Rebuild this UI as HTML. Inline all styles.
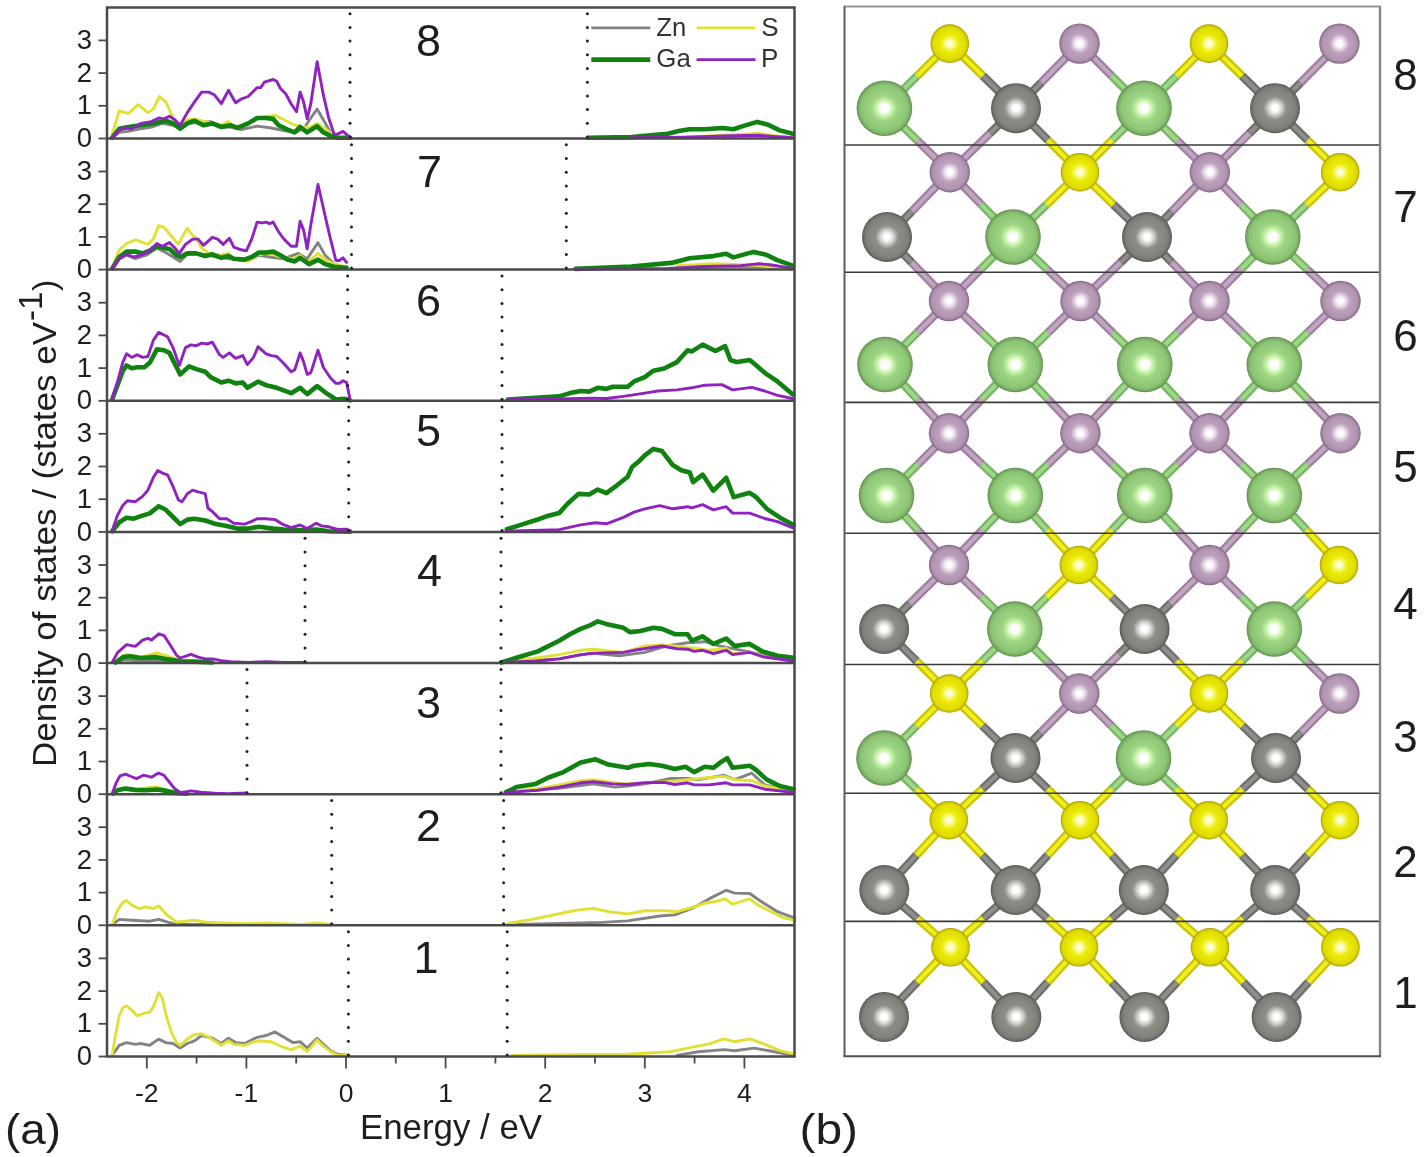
<!DOCTYPE html>
<html><head><meta charset="utf-8"><style>
html,body{margin:0;padding:0;background:#fff;}
body{width:1425px;height:1157px;position:relative;overflow:hidden;font-family:"Liberation Sans", sans-serif;}
</style></head><body>
<svg width="1425" height="1157" viewBox="0 0 1425 1157" style="position:absolute;left:0;top:0;filter:blur(0.45px)">
<defs>
<radialGradient id="gGa" cx="50%" cy="50%" r="50%" fx="50%" fy="50%"><stop offset="0" stop-color="#ffffff"/><stop offset="0.14" stop-color="#ffffff"/><stop offset="0.3" stop-color="#c6f2a6"/><stop offset="0.46" stop-color="#9dd585"/><stop offset="0.84" stop-color="#8bc473"/><stop offset="0.94" stop-color="#77aa62"/><stop offset="1" stop-color="#5a8a48"/></radialGradient>
<radialGradient id="gZn" cx="50%" cy="50%" r="50%" fx="50%" fy="50%"><stop offset="0" stop-color="#ffffff"/><stop offset="0.12" stop-color="#ffffff"/><stop offset="0.28" stop-color="#cfcfca"/><stop offset="0.46" stop-color="#8e8e88"/><stop offset="0.84" stop-color="#80807a"/><stop offset="0.94" stop-color="#6c6c66"/><stop offset="1" stop-color="#52524c"/></radialGradient>
<radialGradient id="gS" cx="50%" cy="50%" r="50%" fx="50%" fy="50%"><stop offset="0" stop-color="#fffff0"/><stop offset="0.08" stop-color="#fffff0"/><stop offset="0.26" stop-color="#f8f870"/><stop offset="0.46" stop-color="#ebeb08"/><stop offset="0.84" stop-color="#dfdc00"/><stop offset="0.94" stop-color="#c8c000"/><stop offset="1" stop-color="#a09600"/></radialGradient>
<radialGradient id="gP" cx="50%" cy="50%" r="50%" fx="50%" fy="50%"><stop offset="0" stop-color="#ffffff"/><stop offset="0.13" stop-color="#ffffff"/><stop offset="0.3" stop-color="#e4d4e4"/><stop offset="0.48" stop-color="#bca2bc"/><stop offset="0.84" stop-color="#b093b0"/><stop offset="0.94" stop-color="#9a7c9a"/><stop offset="1" stop-color="#7c607c"/></radialGradient>
</defs>
<rect width="1425" height="1157" fill="#fff"/>
<g fill="none" stroke-linejoin="round" stroke-linecap="round">
<polyline points="112.2,137.7 119.3,132.3 128.3,131.4 140.8,128.7 151.5,127.0 162.3,123.4 173.0,125.2 180.2,128.7 187.3,123.4 198.1,122.5 210.6,121.6 221.3,127.0 230.3,127.0 241.0,129.6 257.1,126.1 269.6,127.8 284.0,130.5 294.7,132.3 303.6,128.7 310.8,118.0 317.1,109.1 323.3,119.8 330.5,132.3 337.6,137.7 350.2,137.7" stroke="#838383" stroke-width="2.9"/>
<polyline points="112.2,134.1 119.3,110.8 128.3,113.5 138.1,104.6 147.9,112.6 153.3,109.1 159.6,96.5 165.8,101.9 171.2,113.5 174.8,121.6 180.2,127.0 187.3,119.8 194.5,118.9 205.2,121.6 212.4,123.4 221.3,125.2 228.5,121.6 233.8,127.0 244.6,125.2 257.1,118.0 275.0,115.3 284.0,119.8 292.9,124.3 301.9,127.0 310.8,127.0 317.1,123.4 325.1,128.7 332.3,134.1 337.6,137.7 350.2,137.7" stroke="#e1e135" stroke-width="2.9"/>
<polyline points="112.2,137.7 119.3,128.7 128.3,127.0 140.8,125.2 153.3,123.4 165.8,120.7 173.0,123.4 180.2,128.7 187.3,123.4 194.5,120.7 203.4,125.2 212.4,123.4 221.3,127.0 230.3,125.2 237.4,127.8 248.2,123.4 257.1,118.0 266.1,118.0 273.2,118.9 278.6,125.2 287.5,129.6 294.7,132.3 300.1,127.0 307.2,132.3 317.1,126.1 323.3,132.3 330.5,135.9 337.6,137.7 350.2,137.7" stroke="#0f820f" stroke-width="4.6"/>
<polyline points="112.2,137.7 117.5,131.4 124.7,127.8 131.8,128.7 140.8,123.4 151.5,121.6 158.7,118.0 164.1,118.9 169.4,116.2 174.8,119.8 180.2,125.2 187.3,112.6 194.5,101.9 201.6,92.1 208.8,92.1 214.2,94.7 221.3,103.7 228.5,90.3 235.6,102.8 241.0,99.2 248.2,96.5 257.1,87.6 260.7,87.6 264.3,82.2 273.2,79.5 276.8,81.3 280.4,88.5 285.7,93.8 291.1,103.7 296.5,111.7 300.1,92.1 303.6,101.9 307.2,118.9 310.8,103.7 317.1,61.6 323.3,94.7 328.7,118.0 334.1,134.1 337.6,134.1 343.0,131.4 350.2,137.7" stroke="#9022c0" stroke-width="2.9"/>
<polyline points="722.5,136.5 759.0,135.6 792.7,137.8" stroke="#838383" stroke-width="2.9"/>
<polyline points="686.0,137.1 722.5,135.3 759.0,133.4 773.6,135.6 792.7,137.8" stroke="#e1e135" stroke-width="2.9"/>
<polyline points="588.4,137.8 631.2,137.1 667.7,133.8 678.7,131.1 689.6,129.2 704.2,129.2 722.5,128.0 733.4,129.2 744.4,125.6 757.2,121.9 768.1,124.7 779.1,130.1 792.7,133.8" stroke="#0f820f" stroke-width="4.6"/>
<polyline points="631.2,137.8 686.0,137.1 722.5,136.0 759.0,135.3 773.6,136.5 792.7,137.8" stroke="#9022c0" stroke-width="2.9"/>
<polyline points="112.2,268.6 119.3,258.7 126.5,255.2 135.4,258.7 146.2,255.2 156.9,248.0 164.1,251.6 173.0,257.0 180.2,261.4 187.3,254.3 198.1,253.4 212.4,256.1 230.3,258.7 248.2,260.5 258.9,255.2 269.6,257.0 284.0,258.7 298.3,253.4 307.2,258.7 318.0,242.6 325.1,255.2 334.1,264.1 346.6,267.7" stroke="#838383" stroke-width="2.9"/>
<polyline points="112.2,267.7 119.3,249.8 126.5,243.5 135.4,239.9 140.8,241.7 147.9,244.4 153.3,239.1 158.7,225.6 164.1,227.4 169.4,233.7 178.4,244.4 182.0,237.3 187.3,228.3 192.7,235.5 196.3,238.2 201.6,248.0 208.8,253.4 219.5,255.2 228.5,253.4 233.8,258.7 241.0,260.5 248.2,261.4 257.1,255.2 266.1,253.4 275.0,255.2 284.0,257.8 292.9,258.7 300.1,255.2 307.2,262.3 318.0,253.4 325.1,259.6 334.1,264.1 346.6,266.8" stroke="#e1e135" stroke-width="2.9"/>
<polyline points="112.2,268.6 119.3,257.0 126.5,251.6 135.4,251.6 142.6,253.4 149.7,250.7 156.9,246.2 164.1,248.0 169.4,248.9 176.6,255.2 180.2,257.0 187.3,253.4 196.3,253.4 205.2,256.1 212.4,254.3 221.3,257.8 228.5,256.1 233.8,258.7 244.6,259.6 251.7,257.0 258.9,252.5 266.1,252.5 273.2,251.6 280.4,255.2 287.5,259.6 294.7,261.4 300.1,257.8 309.0,264.1 318.0,259.6 325.1,264.1 334.1,266.8 346.6,267.7" stroke="#0f820f" stroke-width="4.6"/>
<polyline points="112.2,268.6 119.3,258.7 126.5,254.3 133.6,257.0 140.8,255.2 147.9,251.6 156.9,243.5 162.3,246.2 169.4,242.6 174.8,248.0 179.3,253.4 185.5,244.4 192.7,239.1 198.1,239.1 203.4,245.3 212.4,237.3 217.7,239.1 223.1,244.4 229.4,238.2 233.8,247.1 241.0,249.8 246.4,250.7 251.7,239.1 257.1,222.1 262.5,222.9 266.1,222.1 269.6,223.8 273.2,222.1 278.6,231.9 284.0,239.1 291.1,246.2 296.5,246.2 300.1,221.2 303.6,230.1 307.2,248.9 310.8,224.7 318.0,184.5 325.1,215.8 330.5,239.1 335.9,260.5 339.4,260.5 343.0,257.8 346.6,262.3" stroke="#9022c0" stroke-width="2.9"/>
<polyline points="686.0,267.8 759.0,266.5 792.7,268.9" stroke="#838383" stroke-width="2.9"/>
<polyline points="676.9,265.6 713.4,263.8 740.7,264.7 759.0,265.6 792.7,268.4" stroke="#e1e135" stroke-width="2.9"/>
<polyline points="575.6,268.9 631.2,266.5 671.4,262.9 689.6,258.3 713.4,256.1 726.1,253.8 733.4,257.4 753.5,251.9 766.3,254.7 777.2,260.1 792.7,265.6" stroke="#0f820f" stroke-width="4.6"/>
<polyline points="575.6,269.3 667.7,268.4 704.2,266.5 740.7,265.6 759.0,263.8 769.9,264.7 792.7,268.4" stroke="#9022c0" stroke-width="2.9"/>
<polyline points="112.2,399.5 117.5,385.2 122.9,370.8 126.5,365.5 131.8,368.2 137.2,367.3 144.4,367.3 149.7,362.8 156.9,349.4 164.1,350.3 169.4,352.9 174.8,363.7 180.2,374.4 189.1,366.4 196.3,369.1 205.2,371.7 210.6,377.1 221.3,382.5 228.5,380.7 235.6,383.4 242.8,382.5 247.3,387.8 253.5,384.3 258.0,381.6 266.1,385.2 276.8,387.8 291.1,393.2 300.1,387.8 307.2,394.1 317.1,386.1 325.1,392.3 335.9,399.5 344.8,398.9 350.2,400.4" stroke="#0f820f" stroke-width="4.6"/>
<polyline points="112.2,398.6 117.5,381.6 122.9,361.9 126.5,353.8 131.8,357.4 137.2,354.7 142.6,357.4 147.9,356.5 153.3,340.4 158.7,332.4 167.6,336.8 173.0,347.6 179.3,365.5 185.5,347.6 190.9,344.9 196.3,345.8 201.6,343.1 207.0,344.0 212.4,342.2 219.5,354.7 223.1,357.4 229.4,352.9 235.6,358.3 242.8,355.6 247.3,364.6 253.5,357.4 258.0,346.7 266.1,353.8 271.4,355.6 276.8,356.5 284.0,363.7 291.1,371.7 294.7,369.9 300.1,352.9 303.6,361.9 307.2,374.4 310.8,372.6 318.0,350.3 323.3,367.3 330.5,378.0 335.9,383.4 339.4,383.4 343.0,380.7 346.6,382.5 350.2,400.4" stroke="#9022c0" stroke-width="2.9"/>
<polyline points="507.8,399.6 559.2,396.4 569.9,393.1 580.6,391.0 589.2,391.6 597.7,387.8 606.3,388.9 612.7,386.7 627.7,386.7 634.1,381.4 644.8,377.1 653.4,370.7 664.1,368.5 676.9,362.1 687.6,350.3 691.9,351.4 702.6,344.6 715.5,351.0 725.1,346.1 730.4,360.0 736.9,362.1 749.7,360.0 756.1,365.3 764.7,372.8 777.5,381.4 792.5,394.2" stroke="#0f820f" stroke-width="4.6"/>
<polyline points="507.8,399.6 559.2,398.9 591.3,398.1 606.3,398.5 623.4,396.4 644.8,393.1 657.7,391.0 676.9,389.9 691.9,387.8 704.8,385.2 721.9,384.6 732.6,389.9 751.8,387.4 764.7,391.0 777.5,395.3 792.5,398.5" stroke="#9022c0" stroke-width="2.9"/>
<polyline points="112.2,531.3 119.3,522.3 126.5,517.8 133.6,518.7 140.8,516.1 149.7,513.4 158.7,506.2 165.8,509.8 173.0,517.0 180.2,524.1 187.3,519.6 194.5,518.7 205.2,520.5 216.0,524.1 226.7,525.9 237.4,528.6 248.2,528.6 258.9,526.8 273.2,528.6 284.0,529.5 301.9,530.4 316.2,529.5 328.7,531.3 350.2,531.6" stroke="#0f820f" stroke-width="4.6"/>
<polyline points="112.2,530.4 117.5,515.2 122.9,505.3 127.4,500.8 135.4,501.7 142.6,496.4 147.9,490.1 153.3,477.6 157.8,470.4 162.3,473.1 167.6,474.9 173.0,486.5 178.4,499.9 182.0,501.7 187.3,493.7 192.7,490.1 198.1,491.9 205.2,493.7 207.9,508.0 212.4,511.6 219.5,518.7 226.7,518.7 233.8,523.2 244.6,524.1 251.7,521.4 257.1,518.7 266.1,518.7 275.0,519.6 282.2,524.1 291.1,527.7 300.1,525.0 307.2,528.6 316.2,523.2 321.5,525.9 328.7,526.8 337.6,529.5 346.6,529.1 350.2,531.3" stroke="#9022c0" stroke-width="2.9"/>
<polyline points="506.8,529.2 520.7,524.9 537.8,519.5 546.4,516.3 559.2,513.1 567.8,503.5 578.5,493.9 589.2,494.5 597.7,489.6 606.3,493.2 617.0,485.3 627.7,476.7 632.0,467.1 638.4,461.8 644.8,455.3 653.4,448.9 662.0,451.1 672.7,465.0 681.2,470.3 689.8,472.5 693.0,482.1 702.6,474.6 713.3,490.7 726.2,477.8 733.7,497.1 749.7,492.8 756.1,497.1 766.8,508.8 779.7,517.4 793.6,524.9" stroke="#0f820f" stroke-width="4.6"/>
<polyline points="506.8,531.3 559.2,529.6 580.6,524.9 595.6,522.8 606.3,523.8 623.4,517.4 634.1,512.1 644.8,508.8 659.8,505.6 672.7,508.8 687.6,506.7 691.9,507.8 702.6,504.6 713.3,509.9 726.2,506.7 732.6,513.1 749.7,513.1 764.7,518.5 777.5,521.7 793.6,528.1" stroke="#9022c0" stroke-width="2.9"/>
<polyline points="115.7,662.5 122.9,659.8 140.8,660.7 158.7,660.2 176.6,661.6 212.4,662.5" stroke="#838383" stroke-width="2.9"/>
<polyline points="115.7,661.6 126.5,654.4 140.8,657.1 156.9,653.0 167.6,656.2 180.2,660.7 194.5,661.6 212.4,662.5" stroke="#e1e135" stroke-width="2.9"/>
<polyline points="115.7,662.5 122.9,657.1 130.1,656.2 140.8,658.0 155.1,657.1 165.8,658.9 180.2,661.2 194.5,661.6 212.4,662.5" stroke="#0f820f" stroke-width="4.6"/>
<polyline points="112.2,662.5 117.5,652.6 126.5,644.6 135.4,646.4 142.6,640.1 147.9,638.3 151.5,640.1 158.7,633.8 164.1,635.6 169.4,643.7 176.6,655.3 180.2,658.0 190.9,654.4 198.1,657.1 205.2,658.9 212.4,658.9 221.3,660.7 230.3,661.6 248.2,662.5 266.1,661.6 284.0,662.5 304.5,662.5" stroke="#9022c0" stroke-width="2.9"/>
<polyline points="501.4,662.5 559.2,658.9 591.3,653.1 619.1,655.7 644.8,652.4 666.2,646.0 687.6,642.8 704.8,641.7 719.7,646.0 730.4,648.2 751.8,652.4 793.6,661.0" stroke="#838383" stroke-width="2.9"/>
<polyline points="501.4,662.5 537.8,657.8 559.2,654.6 580.6,650.3 593.5,649.2 623.4,652.4 644.8,646.0 662.0,644.9 687.6,647.1 709.0,650.3 726.2,648.2 732.6,653.5 751.8,652.4 764.7,656.7 793.6,661.0" stroke="#e1e135" stroke-width="2.9"/>
<polyline points="501.4,662.5 516.4,657.8 537.8,651.4 559.2,640.7 569.9,634.2 580.6,628.9 589.2,625.7 597.7,621.4 608.4,624.6 623.4,627.8 629.8,632.1 640.5,631.0 653.4,627.8 662.0,628.9 674.8,634.2 687.6,634.2 691.9,640.7 702.6,636.4 713.3,643.9 726.2,638.5 734.7,646.0 749.7,643.9 762.6,651.4 777.5,655.7 793.6,657.8" stroke="#0f820f" stroke-width="4.6"/>
<polyline points="501.4,662.5 537.8,661.0 559.2,658.9 580.6,654.6 595.6,653.1 623.4,652.4 634.1,650.3 662.0,646.0 676.9,648.8 687.6,649.2 694.1,651.4 702.6,650.3 713.3,653.5 726.2,650.3 732.6,654.6 749.7,652.4 762.6,656.7 793.6,661.0" stroke="#9022c0" stroke-width="2.9"/>
<polyline points="139.2,788.8 157.0,786.8 166.6,790.2 176.2,793.2" stroke="#e1e135" stroke-width="2.9"/>
<polyline points="113.2,793.6 117.3,790.2 125.5,788.6 135.1,789.9 146.1,790.2 157.0,789.5 166.6,790.9 176.2,792.9 187.1,793.6" stroke="#0f820f" stroke-width="4.6"/>
<polyline points="112.5,792.9 115.9,783.4 120.1,775.8 125.5,774.1 131.0,776.5 136.5,778.6 143.3,775.2 151.5,777.2 158.4,773.1 163.8,775.2 169.3,782.0 174.8,788.8 180.3,792.7 191.2,790.9 200.8,792.3 214.5,793.2 228.2,793.6 246.6,792.9" stroke="#9022c0" stroke-width="2.9"/>
<polyline points="505.7,792.4 559.2,788.2 593.5,783.9 614.9,787.1 627.7,786.0 644.8,783.9 670.5,778.5 687.6,778.5 698.3,779.6 724.0,775.3 734.7,779.6 751.8,773.2 764.7,784.9 793.6,791.4" stroke="#838383" stroke-width="2.9"/>
<polyline points="505.7,792.4 537.8,788.8 559.2,784.9 580.6,780.7 593.5,779.6 623.4,783.9 666.2,781.7 687.6,779.6 709.0,777.5 724.0,776.4 734.7,779.6 751.8,780.7 764.7,786.0 793.6,791.4" stroke="#e1e135" stroke-width="2.9"/>
<polyline points="505.7,792.4 516.4,787.1 535.7,783.9 548.5,777.5 563.5,772.1 580.6,762.5 595.6,759.3 608.4,764.6 627.7,767.8 634.1,765.7 649.1,764.0 662.0,765.7 674.8,768.9 685.5,766.8 694.1,772.1 704.8,766.8 713.3,767.8 721.9,761.4 727.2,758.2 732.6,767.8 749.7,765.7 756.1,770.0 766.8,779.6 779.7,786.0 793.6,789.2" stroke="#0f820f" stroke-width="4.6"/>
<polyline points="505.7,792.4 537.8,790.3 559.2,787.1 580.6,782.8 593.5,781.7 612.7,783.9 627.7,784.5 644.8,782.8 664.1,782.4 674.8,784.5 687.6,782.8 694.1,784.9 709.0,784.9 726.2,782.8 732.6,784.9 749.7,784.9 764.7,789.2 793.6,792.4" stroke="#9022c0" stroke-width="2.9"/>
<polyline points="112.2,924.7 119.3,919.4 131.8,920.3 149.7,921.2 158.7,919.4 167.6,922.1 176.6,924.4 331.4,924.7" stroke="#838383" stroke-width="2.9"/>
<polyline points="112.2,924.7 117.5,910.4 122.9,902.4 126.5,900.6 131.8,905.1 139.0,908.6 146.2,906.8 153.3,908.6 158.7,905.9 165.8,914.0 176.6,922.1 185.5,921.2 194.5,920.3 205.2,922.1 221.3,922.9 248.2,923.8 266.1,922.9 301.9,924.4 316.2,922.9 331.4,924.4" stroke="#e1e135" stroke-width="2.9"/>
<polyline points="507.8,924.6 559.2,923.5 602.0,922.4 627.7,920.9 659.8,916.0 674.8,914.9 691.9,908.5 709.0,898.9 726.2,890.3 734.7,893.1 749.7,893.5 760.4,901.0 777.5,911.7 786.1,914.9 794.7,918.2" stroke="#838383" stroke-width="2.9"/>
<polyline points="507.8,923.5 527.1,920.3 548.5,916.0 563.5,912.8 580.6,909.6 593.5,908.5 608.4,911.7 627.7,913.9 644.8,910.7 666.2,910.7 676.9,911.7 691.9,907.5 704.8,903.2 717.6,901.0 725.1,898.9 732.6,904.2 749.7,898.9 758.3,905.3 773.3,912.8 781.8,917.1 794.7,920.3" stroke="#e1e135" stroke-width="2.9"/>
<polyline points="112.2,1055.2 119.3,1045.3 126.5,1042.6 135.4,1044.4 140.8,1043.5 149.7,1045.3 158.7,1039.1 165.8,1042.6 173.0,1043.5 180.2,1048.0 187.3,1043.5 194.5,1040.8 201.6,1035.5 212.4,1038.2 221.3,1043.5 228.5,1038.2 235.6,1042.6 244.6,1043.5 257.1,1037.3 266.1,1035.5 275.0,1031.9 284.0,1037.3 292.9,1042.6 300.1,1041.7 307.2,1048.0 317.1,1038.2 323.3,1044.4 330.5,1050.7 337.6,1054.3 348.4,1055.2" stroke="#838383" stroke-width="2.9"/>
<polyline points="112.2,1055.2 115.7,1033.7 119.3,1015.8 122.9,1007.7 126.5,1005.9 131.8,1010.4 137.2,1015.8 144.4,1013.1 149.7,1012.2 154.2,1005.1 158.7,992.5 162.3,997.9 165.8,1014.0 171.2,1031.9 176.6,1042.6 180.2,1045.3 187.3,1039.1 194.5,1034.6 201.6,1033.7 208.8,1037.3 216.0,1041.7 221.3,1045.3 228.5,1040.8 233.8,1044.4 244.6,1045.3 251.7,1042.6 258.9,1040.8 271.4,1041.7 280.4,1046.2 291.1,1049.8 300.1,1046.2 307.2,1051.6 317.1,1039.9 323.3,1046.2 330.5,1051.6 337.6,1055.2 348.4,1055.2" stroke="#e1e135" stroke-width="2.9"/>
<polyline points="676.9,1055.4 698.3,1051.7 724.0,1049.6 734.7,1050.7 754.0,1048.1 769.0,1050.7 793.6,1055.4" stroke="#838383" stroke-width="2.9"/>
<polyline points="512.1,1055.4 580.6,1054.5 623.4,1054.5 670.5,1051.7 687.6,1048.1 709.0,1043.8 724.0,1038.9 734.7,1041.7 749.7,1038.9 764.7,1044.2 779.7,1050.7 793.6,1053.9" stroke="#e1e135" stroke-width="2.9"/>
</g>
<g stroke="#4a4a4a" stroke-width="2.5" fill="none">
<rect x="107" y="7.5" width="687.5" height="1049.0"/>
<line x1="107" y1="925.3" x2="794.5" y2="925.3"/>
<line x1="107" y1="794.2" x2="794.5" y2="794.2"/>
<line x1="107" y1="663.1" x2="794.5" y2="663.1"/>
<line x1="107" y1="531.9" x2="794.5" y2="531.9"/>
<line x1="107" y1="400.8" x2="794.5" y2="400.8"/>
<line x1="107" y1="269.6" x2="794.5" y2="269.6"/>
<line x1="107" y1="138.5" x2="794.5" y2="138.5"/>
<line x1="98.5" y1="138.5" x2="107" y2="138.5" stroke-width="1.8"/>
<line x1="98.5" y1="105.8" x2="107" y2="105.8" stroke-width="1.8"/>
<line x1="98.5" y1="73.1" x2="107" y2="73.1" stroke-width="1.8"/>
<line x1="98.5" y1="40.4" x2="107" y2="40.4" stroke-width="1.8"/>
<line x1="98.5" y1="269.6" x2="107" y2="269.6" stroke-width="1.8"/>
<line x1="98.5" y1="236.9" x2="107" y2="236.9" stroke-width="1.8"/>
<line x1="98.5" y1="204.2" x2="107" y2="204.2" stroke-width="1.8"/>
<line x1="98.5" y1="171.5" x2="107" y2="171.5" stroke-width="1.8"/>
<line x1="98.5" y1="400.8" x2="107" y2="400.8" stroke-width="1.8"/>
<line x1="98.5" y1="368.1" x2="107" y2="368.1" stroke-width="1.8"/>
<line x1="98.5" y1="335.4" x2="107" y2="335.4" stroke-width="1.8"/>
<line x1="98.5" y1="302.7" x2="107" y2="302.7" stroke-width="1.8"/>
<line x1="98.5" y1="531.9" x2="107" y2="531.9" stroke-width="1.8"/>
<line x1="98.5" y1="499.2" x2="107" y2="499.2" stroke-width="1.8"/>
<line x1="98.5" y1="466.5" x2="107" y2="466.5" stroke-width="1.8"/>
<line x1="98.5" y1="433.8" x2="107" y2="433.8" stroke-width="1.8"/>
<line x1="98.5" y1="663.1" x2="107" y2="663.1" stroke-width="1.8"/>
<line x1="98.5" y1="630.4" x2="107" y2="630.4" stroke-width="1.8"/>
<line x1="98.5" y1="597.7" x2="107" y2="597.7" stroke-width="1.8"/>
<line x1="98.5" y1="565.0" x2="107" y2="565.0" stroke-width="1.8"/>
<line x1="98.5" y1="794.2" x2="107" y2="794.2" stroke-width="1.8"/>
<line x1="98.5" y1="761.5" x2="107" y2="761.5" stroke-width="1.8"/>
<line x1="98.5" y1="728.8" x2="107" y2="728.8" stroke-width="1.8"/>
<line x1="98.5" y1="696.1" x2="107" y2="696.1" stroke-width="1.8"/>
<line x1="98.5" y1="925.3" x2="107" y2="925.3" stroke-width="1.8"/>
<line x1="98.5" y1="892.6" x2="107" y2="892.6" stroke-width="1.8"/>
<line x1="98.5" y1="859.9" x2="107" y2="859.9" stroke-width="1.8"/>
<line x1="98.5" y1="827.2" x2="107" y2="827.2" stroke-width="1.8"/>
<line x1="98.5" y1="1056.5" x2="107" y2="1056.5" stroke-width="1.8"/>
<line x1="98.5" y1="1023.8" x2="107" y2="1023.8" stroke-width="1.8"/>
<line x1="98.5" y1="991.1" x2="107" y2="991.1" stroke-width="1.8"/>
<line x1="98.5" y1="958.4" x2="107" y2="958.4" stroke-width="1.8"/>
<line x1="146.8" y1="1056.5" x2="146.8" y2="1068.5" stroke-width="1.8"/>
<line x1="196.6" y1="1056.5" x2="196.6" y2="1063.5" stroke-width="1.8"/>
<line x1="246.4" y1="1056.5" x2="246.4" y2="1068.5" stroke-width="1.8"/>
<line x1="296.2" y1="1056.5" x2="296.2" y2="1063.5" stroke-width="1.8"/>
<line x1="346.0" y1="1056.5" x2="346.0" y2="1068.5" stroke-width="1.8"/>
<line x1="395.8" y1="1056.5" x2="395.8" y2="1063.5" stroke-width="1.8"/>
<line x1="445.6" y1="1056.5" x2="445.6" y2="1068.5" stroke-width="1.8"/>
<line x1="495.4" y1="1056.5" x2="495.4" y2="1063.5" stroke-width="1.8"/>
<line x1="545.2" y1="1056.5" x2="545.2" y2="1068.5" stroke-width="1.8"/>
<line x1="595.0" y1="1056.5" x2="595.0" y2="1063.5" stroke-width="1.8"/>
<line x1="644.8" y1="1056.5" x2="644.8" y2="1068.5" stroke-width="1.8"/>
<line x1="694.6" y1="1056.5" x2="694.6" y2="1063.5" stroke-width="1.8"/>
<line x1="744.4" y1="1056.5" x2="744.4" y2="1068.5" stroke-width="1.8"/>
</g>
<g fill="#222">
<circle cx="350" cy="137.0" r="1.5"/>
<circle cx="350" cy="123.3" r="1.5"/>
<circle cx="350" cy="109.6" r="1.5"/>
<circle cx="350" cy="95.9" r="1.5"/>
<circle cx="350" cy="82.2" r="1.5"/>
<circle cx="350" cy="68.5" r="1.5"/>
<circle cx="350" cy="54.8" r="1.5"/>
<circle cx="350" cy="41.1" r="1.5"/>
<circle cx="350" cy="27.4" r="1.5"/>
<circle cx="350" cy="13.7" r="1.5"/>
<circle cx="587.4" cy="137.0" r="1.5"/>
<circle cx="587.4" cy="123.3" r="1.5"/>
<circle cx="587.4" cy="109.6" r="1.5"/>
<circle cx="587.4" cy="95.9" r="1.5"/>
<circle cx="587.4" cy="82.2" r="1.5"/>
<circle cx="587.4" cy="68.5" r="1.5"/>
<circle cx="587.4" cy="54.8" r="1.5"/>
<circle cx="587.4" cy="41.1" r="1.5"/>
<circle cx="587.4" cy="27.4" r="1.5"/>
<circle cx="587.4" cy="13.7" r="1.5"/>
<circle cx="351.5" cy="268.1" r="1.5"/>
<circle cx="351.5" cy="254.4" r="1.5"/>
<circle cx="351.5" cy="240.7" r="1.5"/>
<circle cx="351.5" cy="227.0" r="1.5"/>
<circle cx="351.5" cy="213.3" r="1.5"/>
<circle cx="351.5" cy="199.6" r="1.5"/>
<circle cx="351.5" cy="185.9" r="1.5"/>
<circle cx="351.5" cy="172.2" r="1.5"/>
<circle cx="351.5" cy="158.5" r="1.5"/>
<circle cx="351.5" cy="144.8" r="1.5"/>
<circle cx="566.3" cy="268.1" r="1.5"/>
<circle cx="566.3" cy="254.4" r="1.5"/>
<circle cx="566.3" cy="240.7" r="1.5"/>
<circle cx="566.3" cy="227.0" r="1.5"/>
<circle cx="566.3" cy="213.3" r="1.5"/>
<circle cx="566.3" cy="199.6" r="1.5"/>
<circle cx="566.3" cy="185.9" r="1.5"/>
<circle cx="566.3" cy="172.2" r="1.5"/>
<circle cx="566.3" cy="158.5" r="1.5"/>
<circle cx="566.3" cy="144.8" r="1.5"/>
<circle cx="347.6" cy="399.3" r="1.5"/>
<circle cx="347.6" cy="385.6" r="1.5"/>
<circle cx="347.6" cy="371.9" r="1.5"/>
<circle cx="347.6" cy="358.2" r="1.5"/>
<circle cx="347.6" cy="344.5" r="1.5"/>
<circle cx="347.6" cy="330.8" r="1.5"/>
<circle cx="347.6" cy="317.1" r="1.5"/>
<circle cx="347.6" cy="303.4" r="1.5"/>
<circle cx="347.6" cy="289.7" r="1.5"/>
<circle cx="347.6" cy="276.0" r="1.5"/>
<circle cx="502" cy="399.3" r="1.5"/>
<circle cx="502" cy="385.6" r="1.5"/>
<circle cx="502" cy="371.9" r="1.5"/>
<circle cx="502" cy="358.2" r="1.5"/>
<circle cx="502" cy="344.5" r="1.5"/>
<circle cx="502" cy="330.8" r="1.5"/>
<circle cx="502" cy="317.1" r="1.5"/>
<circle cx="502" cy="303.4" r="1.5"/>
<circle cx="502" cy="289.7" r="1.5"/>
<circle cx="502" cy="276.0" r="1.5"/>
<circle cx="348.7" cy="530.4" r="1.5"/>
<circle cx="348.7" cy="516.7" r="1.5"/>
<circle cx="348.7" cy="503.0" r="1.5"/>
<circle cx="348.7" cy="489.3" r="1.5"/>
<circle cx="348.7" cy="475.6" r="1.5"/>
<circle cx="348.7" cy="461.9" r="1.5"/>
<circle cx="348.7" cy="448.2" r="1.5"/>
<circle cx="348.7" cy="434.5" r="1.5"/>
<circle cx="348.7" cy="420.8" r="1.5"/>
<circle cx="348.7" cy="407.1" r="1.5"/>
<circle cx="502" cy="530.4" r="1.5"/>
<circle cx="502" cy="516.7" r="1.5"/>
<circle cx="502" cy="503.0" r="1.5"/>
<circle cx="502" cy="489.3" r="1.5"/>
<circle cx="502" cy="475.6" r="1.5"/>
<circle cx="502" cy="461.9" r="1.5"/>
<circle cx="502" cy="448.2" r="1.5"/>
<circle cx="502" cy="434.5" r="1.5"/>
<circle cx="502" cy="420.8" r="1.5"/>
<circle cx="502" cy="407.1" r="1.5"/>
<circle cx="305" cy="661.6" r="1.5"/>
<circle cx="305" cy="647.9" r="1.5"/>
<circle cx="305" cy="634.2" r="1.5"/>
<circle cx="305" cy="620.5" r="1.5"/>
<circle cx="305" cy="606.8" r="1.5"/>
<circle cx="305" cy="593.1" r="1.5"/>
<circle cx="305" cy="579.4" r="1.5"/>
<circle cx="305" cy="565.7" r="1.5"/>
<circle cx="305" cy="552.0" r="1.5"/>
<circle cx="305" cy="538.3" r="1.5"/>
<circle cx="501" cy="661.6" r="1.5"/>
<circle cx="501" cy="647.9" r="1.5"/>
<circle cx="501" cy="634.2" r="1.5"/>
<circle cx="501" cy="620.5" r="1.5"/>
<circle cx="501" cy="606.8" r="1.5"/>
<circle cx="501" cy="593.1" r="1.5"/>
<circle cx="501" cy="579.4" r="1.5"/>
<circle cx="501" cy="565.7" r="1.5"/>
<circle cx="501" cy="552.0" r="1.5"/>
<circle cx="501" cy="538.3" r="1.5"/>
<circle cx="247" cy="792.7" r="1.5"/>
<circle cx="247" cy="779.0" r="1.5"/>
<circle cx="247" cy="765.3" r="1.5"/>
<circle cx="247" cy="751.6" r="1.5"/>
<circle cx="247" cy="737.9" r="1.5"/>
<circle cx="247" cy="724.2" r="1.5"/>
<circle cx="247" cy="710.5" r="1.5"/>
<circle cx="247" cy="696.8" r="1.5"/>
<circle cx="247" cy="683.1" r="1.5"/>
<circle cx="247" cy="669.4" r="1.5"/>
<circle cx="501" cy="792.7" r="1.5"/>
<circle cx="501" cy="779.0" r="1.5"/>
<circle cx="501" cy="765.3" r="1.5"/>
<circle cx="501" cy="751.6" r="1.5"/>
<circle cx="501" cy="737.9" r="1.5"/>
<circle cx="501" cy="724.2" r="1.5"/>
<circle cx="501" cy="710.5" r="1.5"/>
<circle cx="501" cy="696.8" r="1.5"/>
<circle cx="501" cy="683.1" r="1.5"/>
<circle cx="501" cy="669.4" r="1.5"/>
<circle cx="331.7" cy="923.8" r="1.5"/>
<circle cx="331.7" cy="910.1" r="1.5"/>
<circle cx="331.7" cy="896.4" r="1.5"/>
<circle cx="331.7" cy="882.7" r="1.5"/>
<circle cx="331.7" cy="869.0" r="1.5"/>
<circle cx="331.7" cy="855.3" r="1.5"/>
<circle cx="331.7" cy="841.6" r="1.5"/>
<circle cx="331.7" cy="827.9" r="1.5"/>
<circle cx="331.7" cy="814.2" r="1.5"/>
<circle cx="331.7" cy="800.5" r="1.5"/>
<circle cx="503.6" cy="923.8" r="1.5"/>
<circle cx="503.6" cy="910.1" r="1.5"/>
<circle cx="503.6" cy="896.4" r="1.5"/>
<circle cx="503.6" cy="882.7" r="1.5"/>
<circle cx="503.6" cy="869.0" r="1.5"/>
<circle cx="503.6" cy="855.3" r="1.5"/>
<circle cx="503.6" cy="841.6" r="1.5"/>
<circle cx="503.6" cy="827.9" r="1.5"/>
<circle cx="503.6" cy="814.2" r="1.5"/>
<circle cx="503.6" cy="800.5" r="1.5"/>
<circle cx="348.4" cy="1055.0" r="1.5"/>
<circle cx="348.4" cy="1041.3" r="1.5"/>
<circle cx="348.4" cy="1027.6" r="1.5"/>
<circle cx="348.4" cy="1013.9" r="1.5"/>
<circle cx="348.4" cy="1000.2" r="1.5"/>
<circle cx="348.4" cy="986.5" r="1.5"/>
<circle cx="348.4" cy="972.8" r="1.5"/>
<circle cx="348.4" cy="959.1" r="1.5"/>
<circle cx="348.4" cy="945.4" r="1.5"/>
<circle cx="348.4" cy="931.7" r="1.5"/>
<circle cx="507.2" cy="1055.0" r="1.5"/>
<circle cx="507.2" cy="1041.3" r="1.5"/>
<circle cx="507.2" cy="1027.6" r="1.5"/>
<circle cx="507.2" cy="1013.9" r="1.5"/>
<circle cx="507.2" cy="1000.2" r="1.5"/>
<circle cx="507.2" cy="986.5" r="1.5"/>
<circle cx="507.2" cy="972.8" r="1.5"/>
<circle cx="507.2" cy="959.1" r="1.5"/>
<circle cx="507.2" cy="945.4" r="1.5"/>
<circle cx="507.2" cy="931.7" r="1.5"/>
</g>
<g font-family='"Liberation Sans", sans-serif' fill="#1e1e1e">
<text x="92" y="147.1" font-size="27.5" text-anchor="end">0</text>
<text x="92" y="114.4" font-size="27.5" text-anchor="end">1</text>
<text x="92" y="81.7" font-size="27.5" text-anchor="end">2</text>
<text x="92" y="49.0" font-size="27.5" text-anchor="end">3</text>
<text x="92" y="278.2" font-size="27.5" text-anchor="end">0</text>
<text x="92" y="245.5" font-size="27.5" text-anchor="end">1</text>
<text x="92" y="212.8" font-size="27.5" text-anchor="end">2</text>
<text x="92" y="180.1" font-size="27.5" text-anchor="end">3</text>
<text x="92" y="409.4" font-size="27.5" text-anchor="end">0</text>
<text x="92" y="376.7" font-size="27.5" text-anchor="end">1</text>
<text x="92" y="344.0" font-size="27.5" text-anchor="end">2</text>
<text x="92" y="311.3" font-size="27.5" text-anchor="end">3</text>
<text x="92" y="540.5" font-size="27.5" text-anchor="end">0</text>
<text x="92" y="507.8" font-size="27.5" text-anchor="end">1</text>
<text x="92" y="475.1" font-size="27.5" text-anchor="end">2</text>
<text x="92" y="442.4" font-size="27.5" text-anchor="end">3</text>
<text x="92" y="671.7" font-size="27.5" text-anchor="end">0</text>
<text x="92" y="639.0" font-size="27.5" text-anchor="end">1</text>
<text x="92" y="606.3" font-size="27.5" text-anchor="end">2</text>
<text x="92" y="573.6" font-size="27.5" text-anchor="end">3</text>
<text x="92" y="802.8" font-size="27.5" text-anchor="end">0</text>
<text x="92" y="770.1" font-size="27.5" text-anchor="end">1</text>
<text x="92" y="737.4" font-size="27.5" text-anchor="end">2</text>
<text x="92" y="704.7" font-size="27.5" text-anchor="end">3</text>
<text x="92" y="933.9" font-size="27.5" text-anchor="end">0</text>
<text x="92" y="901.2" font-size="27.5" text-anchor="end">1</text>
<text x="92" y="868.5" font-size="27.5" text-anchor="end">2</text>
<text x="92" y="835.8" font-size="27.5" text-anchor="end">3</text>
<text x="92" y="1065.1" font-size="27.5" text-anchor="end">0</text>
<text x="92" y="1032.4" font-size="27.5" text-anchor="end">1</text>
<text x="92" y="999.7" font-size="27.5" text-anchor="end">2</text>
<text x="92" y="967.0" font-size="27.5" text-anchor="end">3</text>
<text x="146.8" y="1101.5" font-size="26.5" text-anchor="middle">-2</text>
<text x="246.4" y="1101.5" font-size="26.5" text-anchor="middle">-1</text>
<text x="346.0" y="1101.5" font-size="26.5" text-anchor="middle">0</text>
<text x="445.6" y="1101.5" font-size="26.5" text-anchor="middle">1</text>
<text x="545.2" y="1101.5" font-size="26.5" text-anchor="middle">2</text>
<text x="644.8" y="1101.5" font-size="26.5" text-anchor="middle">3</text>
<text x="744.4" y="1101.5" font-size="26.5" text-anchor="middle">4</text>
<text x="428.5" y="55.9" font-size="45" text-anchor="middle">8</text>
<text x="429.5" y="186.7" font-size="45" text-anchor="middle">7</text>
<text x="428.5" y="316" font-size="45" text-anchor="middle">6</text>
<text x="428.5" y="446" font-size="45" text-anchor="middle">5</text>
<text x="429.5" y="585.6" font-size="45" text-anchor="middle">4</text>
<text x="428.5" y="717.8" font-size="45" text-anchor="middle">3</text>
<text x="428.5" y="840.8" font-size="45" text-anchor="middle">2</text>
<text x="426" y="972.5" font-size="45" text-anchor="middle">1</text>
<line x1="591.3" y1="27.9" x2="650.3" y2="27.9" stroke="#838383" stroke-width="2.8"/>
<line x1="696.6" y1="27.9" x2="755.5" y2="27.9" stroke="#e1e135" stroke-width="2.8"/>
<line x1="591.3" y1="59.6" x2="650.3" y2="59.6" stroke="#0f820f" stroke-width="4.8"/>
<line x1="696.6" y1="59.6" x2="755.5" y2="59.6" stroke="#9022c0" stroke-width="2.8"/>
<text x="656.3" y="36.2" font-size="26" fill="#333" textLength="30" lengthAdjust="spacingAndGlyphs">Zn</text>
<text x="761.3" y="36.2" font-size="26" fill="#333">S</text>
<text x="656.3" y="67.4" font-size="26" fill="#333" textLength="34.5" lengthAdjust="spacingAndGlyphs">Ga</text>
<text x="761" y="67.4" font-size="26" fill="#333">P</text>
<text x="360" y="1139.4" font-size="34.5" textLength="182" lengthAdjust="spacingAndGlyphs">Energy / eV</text>
<text x="5" y="1143.5" font-size="42" textLength="56" lengthAdjust="spacingAndGlyphs">(a)</text>
<text x="799.5" y="1143.5" font-size="42" textLength="58.5" lengthAdjust="spacingAndGlyphs">(b)</text>
<g transform="translate(56,767) rotate(-90)">
<text x="0" y="0" font-size="34" textLength="445" lengthAdjust="spacingAndGlyphs">Density of states / (states eV</text>
<text x="446" y="-14.5" font-size="33">-1</text>
<text x="476" y="0" font-size="34">)</text>
</g>
</g>
<g stroke-linecap="butt">
<line x1="949.8" y1="43.6" x2="917.1" y2="75.9" stroke="#c9c400" stroke-width="8.5"/>
<line x1="917.1" y1="75.9" x2="884.4" y2="108.2" stroke="#78b463" stroke-width="8.5"/>
<line x1="949.8" y1="43.6" x2="982.9" y2="75.9" stroke="#c9c400" stroke-width="8.5"/>
<line x1="982.9" y1="75.9" x2="1016" y2="108.2" stroke="#6e6e6a" stroke-width="8.5"/>
<line x1="1079.5" y1="43.6" x2="1041.4" y2="82.4" stroke="#9f7f9f" stroke-width="8.5"/>
<line x1="1041.4" y1="82.4" x2="1016" y2="108.2" stroke="#6e6e6a" stroke-width="8.5"/>
<line x1="1079.5" y1="43.6" x2="1111.8" y2="75.9" stroke="#9f7f9f" stroke-width="8.5"/>
<line x1="1111.8" y1="75.9" x2="1144" y2="108.2" stroke="#78b463" stroke-width="8.5"/>
<line x1="1209" y1="43.6" x2="1176.5" y2="75.9" stroke="#c9c400" stroke-width="8.5"/>
<line x1="1176.5" y1="75.9" x2="1144" y2="108.2" stroke="#78b463" stroke-width="8.5"/>
<line x1="1209" y1="43.6" x2="1242.0" y2="75.9" stroke="#c9c400" stroke-width="8.5"/>
<line x1="1242.0" y1="75.9" x2="1275" y2="108.2" stroke="#6e6e6a" stroke-width="8.5"/>
<line x1="1339.4" y1="43.6" x2="1300.8" y2="82.4" stroke="#9f7f9f" stroke-width="8.5"/>
<line x1="1300.8" y1="82.4" x2="1275" y2="108.2" stroke="#6e6e6a" stroke-width="8.5"/>
<line x1="884.4" y1="108.2" x2="917.1" y2="140.2" stroke="#78b463" stroke-width="8.5"/>
<line x1="917.1" y1="140.2" x2="949.8" y2="172.2" stroke="#9f7f9f" stroke-width="8.5"/>
<line x1="1016" y1="108.2" x2="989.5" y2="133.8" stroke="#6e6e6a" stroke-width="8.5"/>
<line x1="989.5" y1="133.8" x2="949.8" y2="172.2" stroke="#9f7f9f" stroke-width="8.5"/>
<line x1="1016" y1="108.2" x2="1048.0" y2="140.2" stroke="#6e6e6a" stroke-width="8.5"/>
<line x1="1048.0" y1="140.2" x2="1080" y2="172.2" stroke="#c9c400" stroke-width="8.5"/>
<line x1="1144" y1="108.2" x2="1112.0" y2="140.2" stroke="#78b463" stroke-width="8.5"/>
<line x1="1112.0" y1="140.2" x2="1080" y2="172.2" stroke="#c9c400" stroke-width="8.5"/>
<line x1="1144" y1="108.2" x2="1176.9" y2="140.2" stroke="#78b463" stroke-width="8.5"/>
<line x1="1176.9" y1="140.2" x2="1209.8" y2="172.2" stroke="#9f7f9f" stroke-width="8.5"/>
<line x1="1275" y1="108.2" x2="1248.9" y2="133.8" stroke="#6e6e6a" stroke-width="8.5"/>
<line x1="1248.9" y1="133.8" x2="1209.8" y2="172.2" stroke="#9f7f9f" stroke-width="8.5"/>
<line x1="1275" y1="108.2" x2="1307.6" y2="140.2" stroke="#6e6e6a" stroke-width="8.5"/>
<line x1="1307.6" y1="140.2" x2="1340.2" y2="172.2" stroke="#c9c400" stroke-width="8.5"/>
<line x1="949.8" y1="172.2" x2="912.1" y2="211.1" stroke="#9f7f9f" stroke-width="8.5"/>
<line x1="912.1" y1="211.1" x2="887" y2="237" stroke="#6e6e6a" stroke-width="8.5"/>
<line x1="949.8" y1="172.2" x2="981.4" y2="204.6" stroke="#9f7f9f" stroke-width="8.5"/>
<line x1="981.4" y1="204.6" x2="1013" y2="237" stroke="#78b463" stroke-width="8.5"/>
<line x1="1080" y1="172.2" x2="1046.5" y2="204.6" stroke="#c9c400" stroke-width="8.5"/>
<line x1="1046.5" y1="204.6" x2="1013" y2="237" stroke="#78b463" stroke-width="8.5"/>
<line x1="1080" y1="172.2" x2="1113.5" y2="204.6" stroke="#c9c400" stroke-width="8.5"/>
<line x1="1113.5" y1="204.6" x2="1147" y2="237" stroke="#6e6e6a" stroke-width="8.5"/>
<line x1="1209.8" y1="172.2" x2="1172.1" y2="211.1" stroke="#9f7f9f" stroke-width="8.5"/>
<line x1="1172.1" y1="211.1" x2="1147" y2="237" stroke="#6e6e6a" stroke-width="8.5"/>
<line x1="1209.8" y1="172.2" x2="1241.3" y2="204.6" stroke="#9f7f9f" stroke-width="8.5"/>
<line x1="1241.3" y1="204.6" x2="1272.8" y2="237" stroke="#78b463" stroke-width="8.5"/>
<line x1="1340.2" y1="172.2" x2="1306.5" y2="204.6" stroke="#c9c400" stroke-width="8.5"/>
<line x1="1306.5" y1="204.6" x2="1272.8" y2="237" stroke="#78b463" stroke-width="8.5"/>
<line x1="887" y1="237" x2="911.8" y2="262.6" stroke="#6e6e6a" stroke-width="8.5"/>
<line x1="911.8" y1="262.6" x2="949" y2="301" stroke="#9f7f9f" stroke-width="8.5"/>
<line x1="1013" y1="237" x2="981.0" y2="269.0" stroke="#78b463" stroke-width="8.5"/>
<line x1="981.0" y1="269.0" x2="949" y2="301" stroke="#9f7f9f" stroke-width="8.5"/>
<line x1="1013" y1="237" x2="1046.8" y2="269.0" stroke="#78b463" stroke-width="8.5"/>
<line x1="1046.8" y1="269.0" x2="1080.5" y2="301" stroke="#9f7f9f" stroke-width="8.5"/>
<line x1="1147" y1="237" x2="1120.4" y2="262.6" stroke="#6e6e6a" stroke-width="8.5"/>
<line x1="1120.4" y1="262.6" x2="1080.5" y2="301" stroke="#9f7f9f" stroke-width="8.5"/>
<line x1="1147" y1="237" x2="1172.0" y2="262.6" stroke="#6e6e6a" stroke-width="8.5"/>
<line x1="1172.0" y1="262.6" x2="1209.5" y2="301" stroke="#9f7f9f" stroke-width="8.5"/>
<line x1="1272.8" y1="237" x2="1241.2" y2="269.0" stroke="#78b463" stroke-width="8.5"/>
<line x1="1241.2" y1="269.0" x2="1209.5" y2="301" stroke="#9f7f9f" stroke-width="8.5"/>
<line x1="1272.8" y1="237" x2="1306.7" y2="269.0" stroke="#78b463" stroke-width="8.5"/>
<line x1="1306.7" y1="269.0" x2="1340.5" y2="301" stroke="#9f7f9f" stroke-width="8.5"/>
<line x1="949" y1="301" x2="917.0" y2="332.8" stroke="#9f7f9f" stroke-width="8.5"/>
<line x1="917.0" y1="332.8" x2="885" y2="364.5" stroke="#78b463" stroke-width="8.5"/>
<line x1="949" y1="301" x2="982.1" y2="332.8" stroke="#9f7f9f" stroke-width="8.5"/>
<line x1="982.1" y1="332.8" x2="1015.3" y2="364.5" stroke="#78b463" stroke-width="8.5"/>
<line x1="1080.5" y1="301" x2="1047.9" y2="332.8" stroke="#9f7f9f" stroke-width="8.5"/>
<line x1="1047.9" y1="332.8" x2="1015.3" y2="364.5" stroke="#78b463" stroke-width="8.5"/>
<line x1="1080.5" y1="301" x2="1112.7" y2="332.8" stroke="#9f7f9f" stroke-width="8.5"/>
<line x1="1112.7" y1="332.8" x2="1144.8" y2="364.5" stroke="#78b463" stroke-width="8.5"/>
<line x1="1209.5" y1="301" x2="1177.2" y2="332.8" stroke="#9f7f9f" stroke-width="8.5"/>
<line x1="1177.2" y1="332.8" x2="1144.8" y2="364.5" stroke="#78b463" stroke-width="8.5"/>
<line x1="1209.5" y1="301" x2="1241.9" y2="332.8" stroke="#9f7f9f" stroke-width="8.5"/>
<line x1="1241.9" y1="332.8" x2="1274.3" y2="364.5" stroke="#78b463" stroke-width="8.5"/>
<line x1="1340.5" y1="301" x2="1307.4" y2="332.8" stroke="#9f7f9f" stroke-width="8.5"/>
<line x1="1307.4" y1="332.8" x2="1274.3" y2="364.5" stroke="#78b463" stroke-width="8.5"/>
<line x1="885" y1="364.5" x2="917.0" y2="398.9" stroke="#78b463" stroke-width="8.5"/>
<line x1="917.0" y1="398.9" x2="949" y2="433.2" stroke="#9f7f9f" stroke-width="8.5"/>
<line x1="1015.3" y1="364.5" x2="982.1" y2="398.9" stroke="#78b463" stroke-width="8.5"/>
<line x1="982.1" y1="398.9" x2="949" y2="433.2" stroke="#9f7f9f" stroke-width="8.5"/>
<line x1="1015.3" y1="364.5" x2="1047.8" y2="398.9" stroke="#78b463" stroke-width="8.5"/>
<line x1="1047.8" y1="398.9" x2="1080.4" y2="433.2" stroke="#9f7f9f" stroke-width="8.5"/>
<line x1="1144.8" y1="364.5" x2="1112.6" y2="398.9" stroke="#78b463" stroke-width="8.5"/>
<line x1="1112.6" y1="398.9" x2="1080.4" y2="433.2" stroke="#9f7f9f" stroke-width="8.5"/>
<line x1="1144.8" y1="364.5" x2="1177.2" y2="398.9" stroke="#78b463" stroke-width="8.5"/>
<line x1="1177.2" y1="398.9" x2="1209.5" y2="433.2" stroke="#9f7f9f" stroke-width="8.5"/>
<line x1="1274.3" y1="364.5" x2="1241.9" y2="398.9" stroke="#78b463" stroke-width="8.5"/>
<line x1="1241.9" y1="398.9" x2="1209.5" y2="433.2" stroke="#9f7f9f" stroke-width="8.5"/>
<line x1="1274.3" y1="364.5" x2="1307.4" y2="398.9" stroke="#78b463" stroke-width="8.5"/>
<line x1="1307.4" y1="398.9" x2="1340.5" y2="433.2" stroke="#9f7f9f" stroke-width="8.5"/>
<line x1="949" y1="433.2" x2="917.8" y2="464.4" stroke="#9f7f9f" stroke-width="8.5"/>
<line x1="917.8" y1="464.4" x2="886.5" y2="495.5" stroke="#78b463" stroke-width="8.5"/>
<line x1="949" y1="433.2" x2="982.1" y2="464.4" stroke="#9f7f9f" stroke-width="8.5"/>
<line x1="982.1" y1="464.4" x2="1015.3" y2="495.5" stroke="#78b463" stroke-width="8.5"/>
<line x1="1080.4" y1="433.2" x2="1047.8" y2="464.4" stroke="#9f7f9f" stroke-width="8.5"/>
<line x1="1047.8" y1="464.4" x2="1015.3" y2="495.5" stroke="#78b463" stroke-width="8.5"/>
<line x1="1080.4" y1="433.2" x2="1112.6" y2="464.4" stroke="#9f7f9f" stroke-width="8.5"/>
<line x1="1112.6" y1="464.4" x2="1144.8" y2="495.5" stroke="#78b463" stroke-width="8.5"/>
<line x1="1209.5" y1="433.2" x2="1177.2" y2="464.4" stroke="#9f7f9f" stroke-width="8.5"/>
<line x1="1177.2" y1="464.4" x2="1144.8" y2="495.5" stroke="#78b463" stroke-width="8.5"/>
<line x1="1209.5" y1="433.2" x2="1241.9" y2="464.4" stroke="#9f7f9f" stroke-width="8.5"/>
<line x1="1241.9" y1="464.4" x2="1274.3" y2="495.5" stroke="#78b463" stroke-width="8.5"/>
<line x1="1340.5" y1="433.2" x2="1307.4" y2="464.4" stroke="#9f7f9f" stroke-width="8.5"/>
<line x1="1307.4" y1="464.4" x2="1274.3" y2="495.5" stroke="#78b463" stroke-width="8.5"/>
<line x1="886.5" y1="495.5" x2="917.8" y2="530.2" stroke="#78b463" stroke-width="8.5"/>
<line x1="917.8" y1="530.2" x2="949.1" y2="565" stroke="#9f7f9f" stroke-width="8.5"/>
<line x1="1015.3" y1="495.5" x2="982.2" y2="530.2" stroke="#78b463" stroke-width="8.5"/>
<line x1="982.2" y1="530.2" x2="949.1" y2="565" stroke="#9f7f9f" stroke-width="8.5"/>
<line x1="1015.3" y1="495.5" x2="1047.1" y2="530.2" stroke="#78b463" stroke-width="8.5"/>
<line x1="1047.1" y1="530.2" x2="1078.9" y2="565" stroke="#c9c400" stroke-width="8.5"/>
<line x1="1144.8" y1="495.5" x2="1111.8" y2="530.2" stroke="#78b463" stroke-width="8.5"/>
<line x1="1111.8" y1="530.2" x2="1078.9" y2="565" stroke="#c9c400" stroke-width="8.5"/>
<line x1="1144.8" y1="495.5" x2="1177.2" y2="530.2" stroke="#78b463" stroke-width="8.5"/>
<line x1="1177.2" y1="530.2" x2="1209.5" y2="565" stroke="#9f7f9f" stroke-width="8.5"/>
<line x1="1274.3" y1="495.5" x2="1241.9" y2="530.2" stroke="#78b463" stroke-width="8.5"/>
<line x1="1241.9" y1="530.2" x2="1209.5" y2="565" stroke="#9f7f9f" stroke-width="8.5"/>
<line x1="1274.3" y1="495.5" x2="1306.7" y2="530.2" stroke="#78b463" stroke-width="8.5"/>
<line x1="1306.7" y1="530.2" x2="1339" y2="565" stroke="#c9c400" stroke-width="8.5"/>
<line x1="949.1" y1="565" x2="910.1" y2="603.4" stroke="#9f7f9f" stroke-width="8.5"/>
<line x1="910.1" y1="603.4" x2="884.1" y2="629" stroke="#6e6e6a" stroke-width="8.5"/>
<line x1="949.1" y1="565" x2="982.0" y2="597.0" stroke="#9f7f9f" stroke-width="8.5"/>
<line x1="982.0" y1="597.0" x2="1014.8" y2="629" stroke="#78b463" stroke-width="8.5"/>
<line x1="1078.9" y1="565" x2="1046.8" y2="597.0" stroke="#c9c400" stroke-width="8.5"/>
<line x1="1046.8" y1="597.0" x2="1014.8" y2="629" stroke="#78b463" stroke-width="8.5"/>
<line x1="1078.9" y1="565" x2="1111.8" y2="597.0" stroke="#c9c400" stroke-width="8.5"/>
<line x1="1111.8" y1="597.0" x2="1144.6" y2="629" stroke="#6e6e6a" stroke-width="8.5"/>
<line x1="1209.5" y1="565" x2="1170.6" y2="603.4" stroke="#9f7f9f" stroke-width="8.5"/>
<line x1="1170.6" y1="603.4" x2="1144.6" y2="629" stroke="#6e6e6a" stroke-width="8.5"/>
<line x1="1209.5" y1="565" x2="1241.9" y2="597.0" stroke="#9f7f9f" stroke-width="8.5"/>
<line x1="1241.9" y1="597.0" x2="1274.3" y2="629" stroke="#78b463" stroke-width="8.5"/>
<line x1="1339" y1="565" x2="1306.7" y2="597.0" stroke="#c9c400" stroke-width="8.5"/>
<line x1="1306.7" y1="597.0" x2="1274.3" y2="629" stroke="#78b463" stroke-width="8.5"/>
<line x1="884.1" y1="629" x2="916.7" y2="661.2" stroke="#6e6e6a" stroke-width="8.5"/>
<line x1="916.7" y1="661.2" x2="949.2" y2="693.5" stroke="#c9c400" stroke-width="8.5"/>
<line x1="1014.8" y1="629" x2="982.0" y2="661.2" stroke="#78b463" stroke-width="8.5"/>
<line x1="982.0" y1="661.2" x2="949.2" y2="693.5" stroke="#c9c400" stroke-width="8.5"/>
<line x1="1014.8" y1="629" x2="1047.0" y2="661.2" stroke="#78b463" stroke-width="8.5"/>
<line x1="1047.0" y1="661.2" x2="1079.3" y2="693.5" stroke="#9f7f9f" stroke-width="8.5"/>
<line x1="1144.6" y1="629" x2="1118.5" y2="654.8" stroke="#6e6e6a" stroke-width="8.5"/>
<line x1="1118.5" y1="654.8" x2="1079.3" y2="693.5" stroke="#9f7f9f" stroke-width="8.5"/>
<line x1="1144.6" y1="629" x2="1176.8" y2="661.2" stroke="#6e6e6a" stroke-width="8.5"/>
<line x1="1176.8" y1="661.2" x2="1209" y2="693.5" stroke="#c9c400" stroke-width="8.5"/>
<line x1="1274.3" y1="629" x2="1241.7" y2="661.2" stroke="#78b463" stroke-width="8.5"/>
<line x1="1241.7" y1="661.2" x2="1209" y2="693.5" stroke="#c9c400" stroke-width="8.5"/>
<line x1="1274.3" y1="629" x2="1306.8" y2="661.2" stroke="#78b463" stroke-width="8.5"/>
<line x1="1306.8" y1="661.2" x2="1339.4" y2="693.5" stroke="#9f7f9f" stroke-width="8.5"/>
<line x1="949.2" y1="693.5" x2="916.6" y2="725.8" stroke="#c9c400" stroke-width="8.5"/>
<line x1="916.6" y1="725.8" x2="884" y2="758" stroke="#78b463" stroke-width="8.5"/>
<line x1="949.2" y1="693.5" x2="982.4" y2="725.8" stroke="#c9c400" stroke-width="8.5"/>
<line x1="982.4" y1="725.8" x2="1015.5" y2="758" stroke="#6e6e6a" stroke-width="8.5"/>
<line x1="1079.3" y1="693.5" x2="1041.0" y2="732.2" stroke="#9f7f9f" stroke-width="8.5"/>
<line x1="1041.0" y1="732.2" x2="1015.5" y2="758" stroke="#6e6e6a" stroke-width="8.5"/>
<line x1="1079.3" y1="693.5" x2="1111.4" y2="725.8" stroke="#9f7f9f" stroke-width="8.5"/>
<line x1="1111.4" y1="725.8" x2="1143.5" y2="758" stroke="#78b463" stroke-width="8.5"/>
<line x1="1209" y1="693.5" x2="1176.2" y2="725.8" stroke="#c9c400" stroke-width="8.5"/>
<line x1="1176.2" y1="725.8" x2="1143.5" y2="758" stroke="#78b463" stroke-width="8.5"/>
<line x1="1209" y1="693.5" x2="1242.5" y2="725.8" stroke="#c9c400" stroke-width="8.5"/>
<line x1="1242.5" y1="725.8" x2="1276" y2="758" stroke="#6e6e6a" stroke-width="8.5"/>
<line x1="1339.4" y1="693.5" x2="1301.4" y2="732.2" stroke="#9f7f9f" stroke-width="8.5"/>
<line x1="1301.4" y1="732.2" x2="1276" y2="758" stroke="#6e6e6a" stroke-width="8.5"/>
<line x1="884" y1="758" x2="916.4" y2="789.1" stroke="#78b463" stroke-width="8.5"/>
<line x1="916.4" y1="789.1" x2="948.8" y2="820.2" stroke="#c9c400" stroke-width="8.5"/>
<line x1="1015.5" y1="758" x2="982.1" y2="789.1" stroke="#6e6e6a" stroke-width="8.5"/>
<line x1="982.1" y1="789.1" x2="948.8" y2="820.2" stroke="#c9c400" stroke-width="8.5"/>
<line x1="1015.5" y1="758" x2="1047.8" y2="789.1" stroke="#6e6e6a" stroke-width="8.5"/>
<line x1="1047.8" y1="789.1" x2="1080" y2="820.2" stroke="#c9c400" stroke-width="8.5"/>
<line x1="1143.5" y1="758" x2="1111.8" y2="789.1" stroke="#78b463" stroke-width="8.5"/>
<line x1="1111.8" y1="789.1" x2="1080" y2="820.2" stroke="#c9c400" stroke-width="8.5"/>
<line x1="1143.5" y1="758" x2="1176.2" y2="789.1" stroke="#78b463" stroke-width="8.5"/>
<line x1="1176.2" y1="789.1" x2="1208.8" y2="820.2" stroke="#c9c400" stroke-width="8.5"/>
<line x1="1276" y1="758" x2="1242.4" y2="789.1" stroke="#6e6e6a" stroke-width="8.5"/>
<line x1="1242.4" y1="789.1" x2="1208.8" y2="820.2" stroke="#c9c400" stroke-width="8.5"/>
<line x1="1276" y1="758" x2="1308.0" y2="789.1" stroke="#6e6e6a" stroke-width="8.5"/>
<line x1="1308.0" y1="789.1" x2="1340" y2="820.2" stroke="#c9c400" stroke-width="8.5"/>
<line x1="948.8" y1="820.2" x2="916.5" y2="855.1" stroke="#c9c400" stroke-width="8.5"/>
<line x1="916.5" y1="855.1" x2="884.3" y2="890" stroke="#6e6e6a" stroke-width="8.5"/>
<line x1="948.8" y1="820.2" x2="982.2" y2="855.1" stroke="#c9c400" stroke-width="8.5"/>
<line x1="982.2" y1="855.1" x2="1015.7" y2="890" stroke="#6e6e6a" stroke-width="8.5"/>
<line x1="1080" y1="820.2" x2="1047.8" y2="855.1" stroke="#c9c400" stroke-width="8.5"/>
<line x1="1047.8" y1="855.1" x2="1015.7" y2="890" stroke="#6e6e6a" stroke-width="8.5"/>
<line x1="1080" y1="820.2" x2="1111.9" y2="855.1" stroke="#c9c400" stroke-width="8.5"/>
<line x1="1111.9" y1="855.1" x2="1143.8" y2="890" stroke="#6e6e6a" stroke-width="8.5"/>
<line x1="1208.8" y1="820.2" x2="1176.3" y2="855.1" stroke="#c9c400" stroke-width="8.5"/>
<line x1="1176.3" y1="855.1" x2="1143.8" y2="890" stroke="#6e6e6a" stroke-width="8.5"/>
<line x1="1208.8" y1="820.2" x2="1242.0" y2="855.1" stroke="#c9c400" stroke-width="8.5"/>
<line x1="1242.0" y1="855.1" x2="1275.2" y2="890" stroke="#6e6e6a" stroke-width="8.5"/>
<line x1="1340" y1="820.2" x2="1307.6" y2="855.1" stroke="#c9c400" stroke-width="8.5"/>
<line x1="1307.6" y1="855.1" x2="1275.2" y2="890" stroke="#6e6e6a" stroke-width="8.5"/>
<line x1="884.3" y1="890" x2="917.4" y2="918.6" stroke="#6e6e6a" stroke-width="8.5"/>
<line x1="917.4" y1="918.6" x2="950.5" y2="947.3" stroke="#c9c400" stroke-width="8.5"/>
<line x1="1015.7" y1="890" x2="983.1" y2="918.6" stroke="#6e6e6a" stroke-width="8.5"/>
<line x1="983.1" y1="918.6" x2="950.5" y2="947.3" stroke="#c9c400" stroke-width="8.5"/>
<line x1="1015.7" y1="890" x2="1047.3" y2="918.6" stroke="#6e6e6a" stroke-width="8.5"/>
<line x1="1047.3" y1="918.6" x2="1079" y2="947.3" stroke="#c9c400" stroke-width="8.5"/>
<line x1="1143.8" y1="890" x2="1111.4" y2="918.6" stroke="#6e6e6a" stroke-width="8.5"/>
<line x1="1111.4" y1="918.6" x2="1079" y2="947.3" stroke="#c9c400" stroke-width="8.5"/>
<line x1="1143.8" y1="890" x2="1176.9" y2="918.6" stroke="#6e6e6a" stroke-width="8.5"/>
<line x1="1176.9" y1="918.6" x2="1210" y2="947.3" stroke="#c9c400" stroke-width="8.5"/>
<line x1="1275.2" y1="890" x2="1242.6" y2="918.6" stroke="#6e6e6a" stroke-width="8.5"/>
<line x1="1242.6" y1="918.6" x2="1210" y2="947.3" stroke="#c9c400" stroke-width="8.5"/>
<line x1="1275.2" y1="890" x2="1307.8" y2="918.6" stroke="#6e6e6a" stroke-width="8.5"/>
<line x1="1307.8" y1="918.6" x2="1340.4" y2="947.3" stroke="#c9c400" stroke-width="8.5"/>
<line x1="950.5" y1="947.3" x2="917.2" y2="982.1" stroke="#c9c400" stroke-width="8.5"/>
<line x1="917.2" y1="982.1" x2="884" y2="1016.9" stroke="#6e6e6a" stroke-width="8.5"/>
<line x1="950.5" y1="947.3" x2="983.4" y2="982.1" stroke="#c9c400" stroke-width="8.5"/>
<line x1="983.4" y1="982.1" x2="1016.3" y2="1016.9" stroke="#6e6e6a" stroke-width="8.5"/>
<line x1="1079" y1="947.3" x2="1047.7" y2="982.1" stroke="#c9c400" stroke-width="8.5"/>
<line x1="1047.7" y1="982.1" x2="1016.3" y2="1016.9" stroke="#6e6e6a" stroke-width="8.5"/>
<line x1="1079" y1="947.3" x2="1111.7" y2="982.1" stroke="#c9c400" stroke-width="8.5"/>
<line x1="1111.7" y1="982.1" x2="1144.4" y2="1016.9" stroke="#6e6e6a" stroke-width="8.5"/>
<line x1="1210" y1="947.3" x2="1177.2" y2="982.1" stroke="#c9c400" stroke-width="8.5"/>
<line x1="1177.2" y1="982.1" x2="1144.4" y2="1016.9" stroke="#6e6e6a" stroke-width="8.5"/>
<line x1="1210" y1="947.3" x2="1243.3" y2="982.1" stroke="#c9c400" stroke-width="8.5"/>
<line x1="1243.3" y1="982.1" x2="1276.6" y2="1016.9" stroke="#6e6e6a" stroke-width="8.5"/>
<line x1="1340.4" y1="947.3" x2="1308.5" y2="982.1" stroke="#c9c400" stroke-width="8.5"/>
<line x1="1308.5" y1="982.1" x2="1276.6" y2="1016.9" stroke="#6e6e6a" stroke-width="8.5"/>
<line x1="949.8" y1="43.6" x2="917.1" y2="75.9" stroke="#eeee20" stroke-width="4"/>
<line x1="917.1" y1="75.9" x2="884.4" y2="108.2" stroke="#9cd888" stroke-width="4"/>
<line x1="949.8" y1="43.6" x2="982.9" y2="75.9" stroke="#eeee20" stroke-width="4"/>
<line x1="982.9" y1="75.9" x2="1016" y2="108.2" stroke="#8e8e8a" stroke-width="4"/>
<line x1="1079.5" y1="43.6" x2="1041.4" y2="82.4" stroke="#c0a6c0" stroke-width="4"/>
<line x1="1041.4" y1="82.4" x2="1016" y2="108.2" stroke="#8e8e8a" stroke-width="4"/>
<line x1="1079.5" y1="43.6" x2="1111.8" y2="75.9" stroke="#c0a6c0" stroke-width="4"/>
<line x1="1111.8" y1="75.9" x2="1144" y2="108.2" stroke="#9cd888" stroke-width="4"/>
<line x1="1209" y1="43.6" x2="1176.5" y2="75.9" stroke="#eeee20" stroke-width="4"/>
<line x1="1176.5" y1="75.9" x2="1144" y2="108.2" stroke="#9cd888" stroke-width="4"/>
<line x1="1209" y1="43.6" x2="1242.0" y2="75.9" stroke="#eeee20" stroke-width="4"/>
<line x1="1242.0" y1="75.9" x2="1275" y2="108.2" stroke="#8e8e8a" stroke-width="4"/>
<line x1="1339.4" y1="43.6" x2="1300.8" y2="82.4" stroke="#c0a6c0" stroke-width="4"/>
<line x1="1300.8" y1="82.4" x2="1275" y2="108.2" stroke="#8e8e8a" stroke-width="4"/>
<line x1="884.4" y1="108.2" x2="917.1" y2="140.2" stroke="#9cd888" stroke-width="4"/>
<line x1="917.1" y1="140.2" x2="949.8" y2="172.2" stroke="#c0a6c0" stroke-width="4"/>
<line x1="1016" y1="108.2" x2="989.5" y2="133.8" stroke="#8e8e8a" stroke-width="4"/>
<line x1="989.5" y1="133.8" x2="949.8" y2="172.2" stroke="#c0a6c0" stroke-width="4"/>
<line x1="1016" y1="108.2" x2="1048.0" y2="140.2" stroke="#8e8e8a" stroke-width="4"/>
<line x1="1048.0" y1="140.2" x2="1080" y2="172.2" stroke="#eeee20" stroke-width="4"/>
<line x1="1144" y1="108.2" x2="1112.0" y2="140.2" stroke="#9cd888" stroke-width="4"/>
<line x1="1112.0" y1="140.2" x2="1080" y2="172.2" stroke="#eeee20" stroke-width="4"/>
<line x1="1144" y1="108.2" x2="1176.9" y2="140.2" stroke="#9cd888" stroke-width="4"/>
<line x1="1176.9" y1="140.2" x2="1209.8" y2="172.2" stroke="#c0a6c0" stroke-width="4"/>
<line x1="1275" y1="108.2" x2="1248.9" y2="133.8" stroke="#8e8e8a" stroke-width="4"/>
<line x1="1248.9" y1="133.8" x2="1209.8" y2="172.2" stroke="#c0a6c0" stroke-width="4"/>
<line x1="1275" y1="108.2" x2="1307.6" y2="140.2" stroke="#8e8e8a" stroke-width="4"/>
<line x1="1307.6" y1="140.2" x2="1340.2" y2="172.2" stroke="#eeee20" stroke-width="4"/>
<line x1="949.8" y1="172.2" x2="912.1" y2="211.1" stroke="#c0a6c0" stroke-width="4"/>
<line x1="912.1" y1="211.1" x2="887" y2="237" stroke="#8e8e8a" stroke-width="4"/>
<line x1="949.8" y1="172.2" x2="981.4" y2="204.6" stroke="#c0a6c0" stroke-width="4"/>
<line x1="981.4" y1="204.6" x2="1013" y2="237" stroke="#9cd888" stroke-width="4"/>
<line x1="1080" y1="172.2" x2="1046.5" y2="204.6" stroke="#eeee20" stroke-width="4"/>
<line x1="1046.5" y1="204.6" x2="1013" y2="237" stroke="#9cd888" stroke-width="4"/>
<line x1="1080" y1="172.2" x2="1113.5" y2="204.6" stroke="#eeee20" stroke-width="4"/>
<line x1="1113.5" y1="204.6" x2="1147" y2="237" stroke="#8e8e8a" stroke-width="4"/>
<line x1="1209.8" y1="172.2" x2="1172.1" y2="211.1" stroke="#c0a6c0" stroke-width="4"/>
<line x1="1172.1" y1="211.1" x2="1147" y2="237" stroke="#8e8e8a" stroke-width="4"/>
<line x1="1209.8" y1="172.2" x2="1241.3" y2="204.6" stroke="#c0a6c0" stroke-width="4"/>
<line x1="1241.3" y1="204.6" x2="1272.8" y2="237" stroke="#9cd888" stroke-width="4"/>
<line x1="1340.2" y1="172.2" x2="1306.5" y2="204.6" stroke="#eeee20" stroke-width="4"/>
<line x1="1306.5" y1="204.6" x2="1272.8" y2="237" stroke="#9cd888" stroke-width="4"/>
<line x1="887" y1="237" x2="911.8" y2="262.6" stroke="#8e8e8a" stroke-width="4"/>
<line x1="911.8" y1="262.6" x2="949" y2="301" stroke="#c0a6c0" stroke-width="4"/>
<line x1="1013" y1="237" x2="981.0" y2="269.0" stroke="#9cd888" stroke-width="4"/>
<line x1="981.0" y1="269.0" x2="949" y2="301" stroke="#c0a6c0" stroke-width="4"/>
<line x1="1013" y1="237" x2="1046.8" y2="269.0" stroke="#9cd888" stroke-width="4"/>
<line x1="1046.8" y1="269.0" x2="1080.5" y2="301" stroke="#c0a6c0" stroke-width="4"/>
<line x1="1147" y1="237" x2="1120.4" y2="262.6" stroke="#8e8e8a" stroke-width="4"/>
<line x1="1120.4" y1="262.6" x2="1080.5" y2="301" stroke="#c0a6c0" stroke-width="4"/>
<line x1="1147" y1="237" x2="1172.0" y2="262.6" stroke="#8e8e8a" stroke-width="4"/>
<line x1="1172.0" y1="262.6" x2="1209.5" y2="301" stroke="#c0a6c0" stroke-width="4"/>
<line x1="1272.8" y1="237" x2="1241.2" y2="269.0" stroke="#9cd888" stroke-width="4"/>
<line x1="1241.2" y1="269.0" x2="1209.5" y2="301" stroke="#c0a6c0" stroke-width="4"/>
<line x1="1272.8" y1="237" x2="1306.7" y2="269.0" stroke="#9cd888" stroke-width="4"/>
<line x1="1306.7" y1="269.0" x2="1340.5" y2="301" stroke="#c0a6c0" stroke-width="4"/>
<line x1="949" y1="301" x2="917.0" y2="332.8" stroke="#c0a6c0" stroke-width="4"/>
<line x1="917.0" y1="332.8" x2="885" y2="364.5" stroke="#9cd888" stroke-width="4"/>
<line x1="949" y1="301" x2="982.1" y2="332.8" stroke="#c0a6c0" stroke-width="4"/>
<line x1="982.1" y1="332.8" x2="1015.3" y2="364.5" stroke="#9cd888" stroke-width="4"/>
<line x1="1080.5" y1="301" x2="1047.9" y2="332.8" stroke="#c0a6c0" stroke-width="4"/>
<line x1="1047.9" y1="332.8" x2="1015.3" y2="364.5" stroke="#9cd888" stroke-width="4"/>
<line x1="1080.5" y1="301" x2="1112.7" y2="332.8" stroke="#c0a6c0" stroke-width="4"/>
<line x1="1112.7" y1="332.8" x2="1144.8" y2="364.5" stroke="#9cd888" stroke-width="4"/>
<line x1="1209.5" y1="301" x2="1177.2" y2="332.8" stroke="#c0a6c0" stroke-width="4"/>
<line x1="1177.2" y1="332.8" x2="1144.8" y2="364.5" stroke="#9cd888" stroke-width="4"/>
<line x1="1209.5" y1="301" x2="1241.9" y2="332.8" stroke="#c0a6c0" stroke-width="4"/>
<line x1="1241.9" y1="332.8" x2="1274.3" y2="364.5" stroke="#9cd888" stroke-width="4"/>
<line x1="1340.5" y1="301" x2="1307.4" y2="332.8" stroke="#c0a6c0" stroke-width="4"/>
<line x1="1307.4" y1="332.8" x2="1274.3" y2="364.5" stroke="#9cd888" stroke-width="4"/>
<line x1="885" y1="364.5" x2="917.0" y2="398.9" stroke="#9cd888" stroke-width="4"/>
<line x1="917.0" y1="398.9" x2="949" y2="433.2" stroke="#c0a6c0" stroke-width="4"/>
<line x1="1015.3" y1="364.5" x2="982.1" y2="398.9" stroke="#9cd888" stroke-width="4"/>
<line x1="982.1" y1="398.9" x2="949" y2="433.2" stroke="#c0a6c0" stroke-width="4"/>
<line x1="1015.3" y1="364.5" x2="1047.8" y2="398.9" stroke="#9cd888" stroke-width="4"/>
<line x1="1047.8" y1="398.9" x2="1080.4" y2="433.2" stroke="#c0a6c0" stroke-width="4"/>
<line x1="1144.8" y1="364.5" x2="1112.6" y2="398.9" stroke="#9cd888" stroke-width="4"/>
<line x1="1112.6" y1="398.9" x2="1080.4" y2="433.2" stroke="#c0a6c0" stroke-width="4"/>
<line x1="1144.8" y1="364.5" x2="1177.2" y2="398.9" stroke="#9cd888" stroke-width="4"/>
<line x1="1177.2" y1="398.9" x2="1209.5" y2="433.2" stroke="#c0a6c0" stroke-width="4"/>
<line x1="1274.3" y1="364.5" x2="1241.9" y2="398.9" stroke="#9cd888" stroke-width="4"/>
<line x1="1241.9" y1="398.9" x2="1209.5" y2="433.2" stroke="#c0a6c0" stroke-width="4"/>
<line x1="1274.3" y1="364.5" x2="1307.4" y2="398.9" stroke="#9cd888" stroke-width="4"/>
<line x1="1307.4" y1="398.9" x2="1340.5" y2="433.2" stroke="#c0a6c0" stroke-width="4"/>
<line x1="949" y1="433.2" x2="917.8" y2="464.4" stroke="#c0a6c0" stroke-width="4"/>
<line x1="917.8" y1="464.4" x2="886.5" y2="495.5" stroke="#9cd888" stroke-width="4"/>
<line x1="949" y1="433.2" x2="982.1" y2="464.4" stroke="#c0a6c0" stroke-width="4"/>
<line x1="982.1" y1="464.4" x2="1015.3" y2="495.5" stroke="#9cd888" stroke-width="4"/>
<line x1="1080.4" y1="433.2" x2="1047.8" y2="464.4" stroke="#c0a6c0" stroke-width="4"/>
<line x1="1047.8" y1="464.4" x2="1015.3" y2="495.5" stroke="#9cd888" stroke-width="4"/>
<line x1="1080.4" y1="433.2" x2="1112.6" y2="464.4" stroke="#c0a6c0" stroke-width="4"/>
<line x1="1112.6" y1="464.4" x2="1144.8" y2="495.5" stroke="#9cd888" stroke-width="4"/>
<line x1="1209.5" y1="433.2" x2="1177.2" y2="464.4" stroke="#c0a6c0" stroke-width="4"/>
<line x1="1177.2" y1="464.4" x2="1144.8" y2="495.5" stroke="#9cd888" stroke-width="4"/>
<line x1="1209.5" y1="433.2" x2="1241.9" y2="464.4" stroke="#c0a6c0" stroke-width="4"/>
<line x1="1241.9" y1="464.4" x2="1274.3" y2="495.5" stroke="#9cd888" stroke-width="4"/>
<line x1="1340.5" y1="433.2" x2="1307.4" y2="464.4" stroke="#c0a6c0" stroke-width="4"/>
<line x1="1307.4" y1="464.4" x2="1274.3" y2="495.5" stroke="#9cd888" stroke-width="4"/>
<line x1="886.5" y1="495.5" x2="917.8" y2="530.2" stroke="#9cd888" stroke-width="4"/>
<line x1="917.8" y1="530.2" x2="949.1" y2="565" stroke="#c0a6c0" stroke-width="4"/>
<line x1="1015.3" y1="495.5" x2="982.2" y2="530.2" stroke="#9cd888" stroke-width="4"/>
<line x1="982.2" y1="530.2" x2="949.1" y2="565" stroke="#c0a6c0" stroke-width="4"/>
<line x1="1015.3" y1="495.5" x2="1047.1" y2="530.2" stroke="#9cd888" stroke-width="4"/>
<line x1="1047.1" y1="530.2" x2="1078.9" y2="565" stroke="#eeee20" stroke-width="4"/>
<line x1="1144.8" y1="495.5" x2="1111.8" y2="530.2" stroke="#9cd888" stroke-width="4"/>
<line x1="1111.8" y1="530.2" x2="1078.9" y2="565" stroke="#eeee20" stroke-width="4"/>
<line x1="1144.8" y1="495.5" x2="1177.2" y2="530.2" stroke="#9cd888" stroke-width="4"/>
<line x1="1177.2" y1="530.2" x2="1209.5" y2="565" stroke="#c0a6c0" stroke-width="4"/>
<line x1="1274.3" y1="495.5" x2="1241.9" y2="530.2" stroke="#9cd888" stroke-width="4"/>
<line x1="1241.9" y1="530.2" x2="1209.5" y2="565" stroke="#c0a6c0" stroke-width="4"/>
<line x1="1274.3" y1="495.5" x2="1306.7" y2="530.2" stroke="#9cd888" stroke-width="4"/>
<line x1="1306.7" y1="530.2" x2="1339" y2="565" stroke="#eeee20" stroke-width="4"/>
<line x1="949.1" y1="565" x2="910.1" y2="603.4" stroke="#c0a6c0" stroke-width="4"/>
<line x1="910.1" y1="603.4" x2="884.1" y2="629" stroke="#8e8e8a" stroke-width="4"/>
<line x1="949.1" y1="565" x2="982.0" y2="597.0" stroke="#c0a6c0" stroke-width="4"/>
<line x1="982.0" y1="597.0" x2="1014.8" y2="629" stroke="#9cd888" stroke-width="4"/>
<line x1="1078.9" y1="565" x2="1046.8" y2="597.0" stroke="#eeee20" stroke-width="4"/>
<line x1="1046.8" y1="597.0" x2="1014.8" y2="629" stroke="#9cd888" stroke-width="4"/>
<line x1="1078.9" y1="565" x2="1111.8" y2="597.0" stroke="#eeee20" stroke-width="4"/>
<line x1="1111.8" y1="597.0" x2="1144.6" y2="629" stroke="#8e8e8a" stroke-width="4"/>
<line x1="1209.5" y1="565" x2="1170.6" y2="603.4" stroke="#c0a6c0" stroke-width="4"/>
<line x1="1170.6" y1="603.4" x2="1144.6" y2="629" stroke="#8e8e8a" stroke-width="4"/>
<line x1="1209.5" y1="565" x2="1241.9" y2="597.0" stroke="#c0a6c0" stroke-width="4"/>
<line x1="1241.9" y1="597.0" x2="1274.3" y2="629" stroke="#9cd888" stroke-width="4"/>
<line x1="1339" y1="565" x2="1306.7" y2="597.0" stroke="#eeee20" stroke-width="4"/>
<line x1="1306.7" y1="597.0" x2="1274.3" y2="629" stroke="#9cd888" stroke-width="4"/>
<line x1="884.1" y1="629" x2="916.7" y2="661.2" stroke="#8e8e8a" stroke-width="4"/>
<line x1="916.7" y1="661.2" x2="949.2" y2="693.5" stroke="#eeee20" stroke-width="4"/>
<line x1="1014.8" y1="629" x2="982.0" y2="661.2" stroke="#9cd888" stroke-width="4"/>
<line x1="982.0" y1="661.2" x2="949.2" y2="693.5" stroke="#eeee20" stroke-width="4"/>
<line x1="1014.8" y1="629" x2="1047.0" y2="661.2" stroke="#9cd888" stroke-width="4"/>
<line x1="1047.0" y1="661.2" x2="1079.3" y2="693.5" stroke="#c0a6c0" stroke-width="4"/>
<line x1="1144.6" y1="629" x2="1118.5" y2="654.8" stroke="#8e8e8a" stroke-width="4"/>
<line x1="1118.5" y1="654.8" x2="1079.3" y2="693.5" stroke="#c0a6c0" stroke-width="4"/>
<line x1="1144.6" y1="629" x2="1176.8" y2="661.2" stroke="#8e8e8a" stroke-width="4"/>
<line x1="1176.8" y1="661.2" x2="1209" y2="693.5" stroke="#eeee20" stroke-width="4"/>
<line x1="1274.3" y1="629" x2="1241.7" y2="661.2" stroke="#9cd888" stroke-width="4"/>
<line x1="1241.7" y1="661.2" x2="1209" y2="693.5" stroke="#eeee20" stroke-width="4"/>
<line x1="1274.3" y1="629" x2="1306.8" y2="661.2" stroke="#9cd888" stroke-width="4"/>
<line x1="1306.8" y1="661.2" x2="1339.4" y2="693.5" stroke="#c0a6c0" stroke-width="4"/>
<line x1="949.2" y1="693.5" x2="916.6" y2="725.8" stroke="#eeee20" stroke-width="4"/>
<line x1="916.6" y1="725.8" x2="884" y2="758" stroke="#9cd888" stroke-width="4"/>
<line x1="949.2" y1="693.5" x2="982.4" y2="725.8" stroke="#eeee20" stroke-width="4"/>
<line x1="982.4" y1="725.8" x2="1015.5" y2="758" stroke="#8e8e8a" stroke-width="4"/>
<line x1="1079.3" y1="693.5" x2="1041.0" y2="732.2" stroke="#c0a6c0" stroke-width="4"/>
<line x1="1041.0" y1="732.2" x2="1015.5" y2="758" stroke="#8e8e8a" stroke-width="4"/>
<line x1="1079.3" y1="693.5" x2="1111.4" y2="725.8" stroke="#c0a6c0" stroke-width="4"/>
<line x1="1111.4" y1="725.8" x2="1143.5" y2="758" stroke="#9cd888" stroke-width="4"/>
<line x1="1209" y1="693.5" x2="1176.2" y2="725.8" stroke="#eeee20" stroke-width="4"/>
<line x1="1176.2" y1="725.8" x2="1143.5" y2="758" stroke="#9cd888" stroke-width="4"/>
<line x1="1209" y1="693.5" x2="1242.5" y2="725.8" stroke="#eeee20" stroke-width="4"/>
<line x1="1242.5" y1="725.8" x2="1276" y2="758" stroke="#8e8e8a" stroke-width="4"/>
<line x1="1339.4" y1="693.5" x2="1301.4" y2="732.2" stroke="#c0a6c0" stroke-width="4"/>
<line x1="1301.4" y1="732.2" x2="1276" y2="758" stroke="#8e8e8a" stroke-width="4"/>
<line x1="884" y1="758" x2="916.4" y2="789.1" stroke="#9cd888" stroke-width="4"/>
<line x1="916.4" y1="789.1" x2="948.8" y2="820.2" stroke="#eeee20" stroke-width="4"/>
<line x1="1015.5" y1="758" x2="982.1" y2="789.1" stroke="#8e8e8a" stroke-width="4"/>
<line x1="982.1" y1="789.1" x2="948.8" y2="820.2" stroke="#eeee20" stroke-width="4"/>
<line x1="1015.5" y1="758" x2="1047.8" y2="789.1" stroke="#8e8e8a" stroke-width="4"/>
<line x1="1047.8" y1="789.1" x2="1080" y2="820.2" stroke="#eeee20" stroke-width="4"/>
<line x1="1143.5" y1="758" x2="1111.8" y2="789.1" stroke="#9cd888" stroke-width="4"/>
<line x1="1111.8" y1="789.1" x2="1080" y2="820.2" stroke="#eeee20" stroke-width="4"/>
<line x1="1143.5" y1="758" x2="1176.2" y2="789.1" stroke="#9cd888" stroke-width="4"/>
<line x1="1176.2" y1="789.1" x2="1208.8" y2="820.2" stroke="#eeee20" stroke-width="4"/>
<line x1="1276" y1="758" x2="1242.4" y2="789.1" stroke="#8e8e8a" stroke-width="4"/>
<line x1="1242.4" y1="789.1" x2="1208.8" y2="820.2" stroke="#eeee20" stroke-width="4"/>
<line x1="1276" y1="758" x2="1308.0" y2="789.1" stroke="#8e8e8a" stroke-width="4"/>
<line x1="1308.0" y1="789.1" x2="1340" y2="820.2" stroke="#eeee20" stroke-width="4"/>
<line x1="948.8" y1="820.2" x2="916.5" y2="855.1" stroke="#eeee20" stroke-width="4"/>
<line x1="916.5" y1="855.1" x2="884.3" y2="890" stroke="#8e8e8a" stroke-width="4"/>
<line x1="948.8" y1="820.2" x2="982.2" y2="855.1" stroke="#eeee20" stroke-width="4"/>
<line x1="982.2" y1="855.1" x2="1015.7" y2="890" stroke="#8e8e8a" stroke-width="4"/>
<line x1="1080" y1="820.2" x2="1047.8" y2="855.1" stroke="#eeee20" stroke-width="4"/>
<line x1="1047.8" y1="855.1" x2="1015.7" y2="890" stroke="#8e8e8a" stroke-width="4"/>
<line x1="1080" y1="820.2" x2="1111.9" y2="855.1" stroke="#eeee20" stroke-width="4"/>
<line x1="1111.9" y1="855.1" x2="1143.8" y2="890" stroke="#8e8e8a" stroke-width="4"/>
<line x1="1208.8" y1="820.2" x2="1176.3" y2="855.1" stroke="#eeee20" stroke-width="4"/>
<line x1="1176.3" y1="855.1" x2="1143.8" y2="890" stroke="#8e8e8a" stroke-width="4"/>
<line x1="1208.8" y1="820.2" x2="1242.0" y2="855.1" stroke="#eeee20" stroke-width="4"/>
<line x1="1242.0" y1="855.1" x2="1275.2" y2="890" stroke="#8e8e8a" stroke-width="4"/>
<line x1="1340" y1="820.2" x2="1307.6" y2="855.1" stroke="#eeee20" stroke-width="4"/>
<line x1="1307.6" y1="855.1" x2="1275.2" y2="890" stroke="#8e8e8a" stroke-width="4"/>
<line x1="884.3" y1="890" x2="917.4" y2="918.6" stroke="#8e8e8a" stroke-width="4"/>
<line x1="917.4" y1="918.6" x2="950.5" y2="947.3" stroke="#eeee20" stroke-width="4"/>
<line x1="1015.7" y1="890" x2="983.1" y2="918.6" stroke="#8e8e8a" stroke-width="4"/>
<line x1="983.1" y1="918.6" x2="950.5" y2="947.3" stroke="#eeee20" stroke-width="4"/>
<line x1="1015.7" y1="890" x2="1047.3" y2="918.6" stroke="#8e8e8a" stroke-width="4"/>
<line x1="1047.3" y1="918.6" x2="1079" y2="947.3" stroke="#eeee20" stroke-width="4"/>
<line x1="1143.8" y1="890" x2="1111.4" y2="918.6" stroke="#8e8e8a" stroke-width="4"/>
<line x1="1111.4" y1="918.6" x2="1079" y2="947.3" stroke="#eeee20" stroke-width="4"/>
<line x1="1143.8" y1="890" x2="1176.9" y2="918.6" stroke="#8e8e8a" stroke-width="4"/>
<line x1="1176.9" y1="918.6" x2="1210" y2="947.3" stroke="#eeee20" stroke-width="4"/>
<line x1="1275.2" y1="890" x2="1242.6" y2="918.6" stroke="#8e8e8a" stroke-width="4"/>
<line x1="1242.6" y1="918.6" x2="1210" y2="947.3" stroke="#eeee20" stroke-width="4"/>
<line x1="1275.2" y1="890" x2="1307.8" y2="918.6" stroke="#8e8e8a" stroke-width="4"/>
<line x1="1307.8" y1="918.6" x2="1340.4" y2="947.3" stroke="#eeee20" stroke-width="4"/>
<line x1="950.5" y1="947.3" x2="917.2" y2="982.1" stroke="#eeee20" stroke-width="4"/>
<line x1="917.2" y1="982.1" x2="884" y2="1016.9" stroke="#8e8e8a" stroke-width="4"/>
<line x1="950.5" y1="947.3" x2="983.4" y2="982.1" stroke="#eeee20" stroke-width="4"/>
<line x1="983.4" y1="982.1" x2="1016.3" y2="1016.9" stroke="#8e8e8a" stroke-width="4"/>
<line x1="1079" y1="947.3" x2="1047.7" y2="982.1" stroke="#eeee20" stroke-width="4"/>
<line x1="1047.7" y1="982.1" x2="1016.3" y2="1016.9" stroke="#8e8e8a" stroke-width="4"/>
<line x1="1079" y1="947.3" x2="1111.7" y2="982.1" stroke="#eeee20" stroke-width="4"/>
<line x1="1111.7" y1="982.1" x2="1144.4" y2="1016.9" stroke="#8e8e8a" stroke-width="4"/>
<line x1="1210" y1="947.3" x2="1177.2" y2="982.1" stroke="#eeee20" stroke-width="4"/>
<line x1="1177.2" y1="982.1" x2="1144.4" y2="1016.9" stroke="#8e8e8a" stroke-width="4"/>
<line x1="1210" y1="947.3" x2="1243.3" y2="982.1" stroke="#eeee20" stroke-width="4"/>
<line x1="1243.3" y1="982.1" x2="1276.6" y2="1016.9" stroke="#8e8e8a" stroke-width="4"/>
<line x1="1340.4" y1="947.3" x2="1308.5" y2="982.1" stroke="#eeee20" stroke-width="4"/>
<line x1="1308.5" y1="982.1" x2="1276.6" y2="1016.9" stroke="#8e8e8a" stroke-width="4"/>
</g>
<g stroke="#3a3a3a" stroke-width="1.6">
<line x1="844.5" y1="145" x2="1380" y2="145"/>
<line x1="844.5" y1="272.2" x2="1380" y2="272.2"/>
<line x1="844.5" y1="402.4" x2="1380" y2="402.4"/>
<line x1="844.5" y1="533.3" x2="1380" y2="533.3"/>
<line x1="844.5" y1="664.5" x2="1380" y2="664.5"/>
<line x1="844.5" y1="793.3" x2="1380" y2="793.3"/>
<line x1="844.5" y1="921.4" x2="1380" y2="921.4"/>
</g>
<circle cx="949.8" cy="43.6" r="19.3" fill="url(#gS)"/>
<circle cx="1079.5" cy="43.6" r="20.2" fill="url(#gP)"/>
<circle cx="1209" cy="43.6" r="19.3" fill="url(#gS)"/>
<circle cx="1339.4" cy="43.6" r="20.2" fill="url(#gP)"/>
<circle cx="884.4" cy="108.2" r="27.8" fill="url(#gGa)"/>
<circle cx="1016" cy="108.2" r="25" fill="url(#gZn)"/>
<circle cx="1144" cy="108.2" r="27.8" fill="url(#gGa)"/>
<circle cx="1275" cy="108.2" r="25" fill="url(#gZn)"/>
<circle cx="949.8" cy="172.2" r="20.2" fill="url(#gP)"/>
<circle cx="1080" cy="172.2" r="19.3" fill="url(#gS)"/>
<circle cx="1209.8" cy="172.2" r="20.2" fill="url(#gP)"/>
<circle cx="1340.2" cy="172.2" r="19.3" fill="url(#gS)"/>
<circle cx="887" cy="237" r="25" fill="url(#gZn)"/>
<circle cx="1013" cy="237" r="27.8" fill="url(#gGa)"/>
<circle cx="1147" cy="237" r="25" fill="url(#gZn)"/>
<circle cx="1272.8" cy="237" r="27.8" fill="url(#gGa)"/>
<circle cx="949" cy="301" r="20.2" fill="url(#gP)"/>
<circle cx="1080.5" cy="301" r="20.2" fill="url(#gP)"/>
<circle cx="1209.5" cy="301" r="20.2" fill="url(#gP)"/>
<circle cx="1340.5" cy="301" r="20.2" fill="url(#gP)"/>
<circle cx="885" cy="364.5" r="27.8" fill="url(#gGa)"/>
<circle cx="1015.3" cy="364.5" r="27.8" fill="url(#gGa)"/>
<circle cx="1144.8" cy="364.5" r="27.8" fill="url(#gGa)"/>
<circle cx="1274.3" cy="364.5" r="27.8" fill="url(#gGa)"/>
<circle cx="949" cy="433.2" r="20.2" fill="url(#gP)"/>
<circle cx="1080.4" cy="433.2" r="20.2" fill="url(#gP)"/>
<circle cx="1209.5" cy="433.2" r="20.2" fill="url(#gP)"/>
<circle cx="1340.5" cy="433.2" r="20.2" fill="url(#gP)"/>
<circle cx="886.5" cy="495.5" r="27.8" fill="url(#gGa)"/>
<circle cx="1015.3" cy="495.5" r="27.8" fill="url(#gGa)"/>
<circle cx="1144.8" cy="495.5" r="27.8" fill="url(#gGa)"/>
<circle cx="1274.3" cy="495.5" r="27.8" fill="url(#gGa)"/>
<circle cx="949.1" cy="565" r="20.2" fill="url(#gP)"/>
<circle cx="1078.9" cy="565" r="19.3" fill="url(#gS)"/>
<circle cx="1209.5" cy="565" r="20.2" fill="url(#gP)"/>
<circle cx="1339" cy="565" r="19.3" fill="url(#gS)"/>
<circle cx="884.1" cy="629" r="25" fill="url(#gZn)"/>
<circle cx="1014.8" cy="629" r="27.8" fill="url(#gGa)"/>
<circle cx="1144.6" cy="629" r="25" fill="url(#gZn)"/>
<circle cx="1274.3" cy="629" r="27.8" fill="url(#gGa)"/>
<circle cx="949.2" cy="693.5" r="19.3" fill="url(#gS)"/>
<circle cx="1079.3" cy="693.5" r="20.2" fill="url(#gP)"/>
<circle cx="1209" cy="693.5" r="19.3" fill="url(#gS)"/>
<circle cx="1339.4" cy="693.5" r="20.2" fill="url(#gP)"/>
<circle cx="884" cy="758" r="27.8" fill="url(#gGa)"/>
<circle cx="1015.5" cy="758" r="25" fill="url(#gZn)"/>
<circle cx="1143.5" cy="758" r="27.8" fill="url(#gGa)"/>
<circle cx="1276" cy="758" r="25" fill="url(#gZn)"/>
<circle cx="948.8" cy="820.2" r="19.3" fill="url(#gS)"/>
<circle cx="1080" cy="820.2" r="19.3" fill="url(#gS)"/>
<circle cx="1208.8" cy="820.2" r="19.3" fill="url(#gS)"/>
<circle cx="1340" cy="820.2" r="19.3" fill="url(#gS)"/>
<circle cx="884.3" cy="890" r="25" fill="url(#gZn)"/>
<circle cx="1015.7" cy="890" r="25" fill="url(#gZn)"/>
<circle cx="1143.8" cy="890" r="25" fill="url(#gZn)"/>
<circle cx="1275.2" cy="890" r="25" fill="url(#gZn)"/>
<circle cx="950.5" cy="947.3" r="19.3" fill="url(#gS)"/>
<circle cx="1079" cy="947.3" r="19.3" fill="url(#gS)"/>
<circle cx="1210" cy="947.3" r="19.3" fill="url(#gS)"/>
<circle cx="1340.4" cy="947.3" r="19.3" fill="url(#gS)"/>
<circle cx="884" cy="1016.9" r="25" fill="url(#gZn)"/>
<circle cx="1016.3" cy="1016.9" r="25" fill="url(#gZn)"/>
<circle cx="1144.4" cy="1016.9" r="25" fill="url(#gZn)"/>
<circle cx="1276.6" cy="1016.9" r="25" fill="url(#gZn)"/>
<line x1="843.5" y1="6.5" x2="1381" y2="6.5" stroke="#959595" stroke-width="2.2"/>
<line x1="1380" y1="6.5" x2="1380" y2="1056.2" stroke="#858585" stroke-width="2.4"/>
<line x1="844.5" y1="6.5" x2="844.5" y2="1056.2" stroke="#5c5c5c" stroke-width="2"/>
<line x1="843.5" y1="1056.2" x2="1381" y2="1056.2" stroke="#505050" stroke-width="2"/>
<g font-family='"Liberation Sans", sans-serif' fill="#1e1e1e">
<text x="1405.5" y="89.7" font-size="44" text-anchor="middle">8</text>
<text x="1405.5" y="221.7" font-size="44" text-anchor="middle">7</text>
<text x="1405.5" y="351" font-size="44" text-anchor="middle">6</text>
<text x="1405.5" y="481.7" font-size="44" text-anchor="middle">5</text>
<text x="1405.5" y="618.5" font-size="44" text-anchor="middle">4</text>
<text x="1405.5" y="752" font-size="44" text-anchor="middle">3</text>
<text x="1405.5" y="876.5" font-size="44" text-anchor="middle">2</text>
<text x="1405.5" y="1007.8" font-size="44" text-anchor="middle">1</text>
</g>
</svg>
</body></html>
